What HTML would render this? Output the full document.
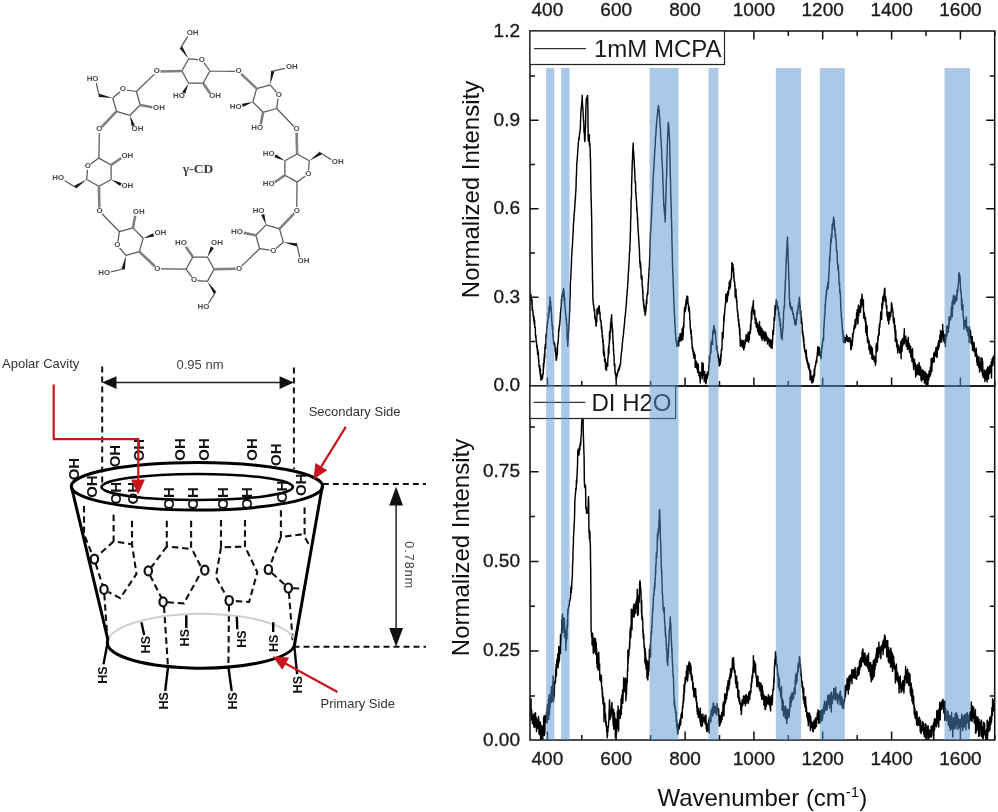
<!DOCTYPE html>
<html><head><meta charset="utf-8"><style>
html,body{margin:0;padding:0;background:#fff;overflow:hidden;width:998px;height:812px;}
svg{display:block;}
</style></head><body>
<svg width="998" height="812" viewBox="0 0 998 812">
<rect width="998" height="812" fill="#fff"/>
<defs><clipPath id="cu"><rect x="530.0" y="31.0" width="464.7" height="355.0"/></clipPath>
<clipPath id="cl"><rect x="530.0" y="386.0" width="464.7" height="354.0"/></clipPath></defs>
<path clip-path="url(#cu)" d="M530.5 293.1L530.7 298.0L530.8 298.8L531.0 295.1L531.2 296.9L531.3 297.5L531.5 301.8L531.7 301.4L531.9 305.1L532.0 299.2L532.2 310.2L532.4 306.9L532.5 310.5L532.7 309.6L532.9 310.3L533.0 314.1L533.2 316.5L533.4 315.1L533.6 316.7L533.7 320.5L533.9 317.6L534.1 317.2L534.2 324.0L534.4 322.5L534.6 320.5L534.7 325.0L534.9 327.5L535.1 326.9L535.3 327.5L535.4 333.3L535.6 337.1L535.8 335.4L535.9 335.5L536.1 340.1L536.3 342.5L536.4 341.1L536.6 344.8L536.8 347.6L537.0 345.5L537.1 345.1L537.3 349.8L537.5 350.9L537.6 354.6L537.8 349.3L538.0 352.4L538.1 353.3L538.3 352.2L538.5 358.8L538.7 361.3L538.8 359.1L539.0 366.4L539.2 366.2L539.3 367.1L539.5 367.8L539.7 370.8L539.8 365.8L540.0 372.7L540.2 374.1L540.4 368.9L540.5 376.2L540.7 376.0L540.9 380.3L541.0 377.9L541.2 378.6L541.4 379.2L541.5 375.4L541.7 379.1L541.9 376.7L542.1 378.0L542.2 374.7L542.4 378.8L542.6 377.0L542.7 374.1L542.9 374.7L543.1 374.7L543.2 374.5L543.4 363.4L543.6 368.6L543.8 365.7L543.9 362.4L544.1 358.2L544.3 362.8L544.4 354.1L544.6 357.5L544.8 357.8L544.9 347.6L545.1 349.1L545.3 344.2L545.5 346.4L545.6 347.8L545.8 347.1L546.0 334.3L546.1 335.6L546.3 337.0L546.5 337.3L546.6 332.0L546.8 326.7L547.0 328.2L547.2 326.0L547.3 324.1L547.5 321.2L547.7 323.0L547.8 321.4L548.0 319.0L548.2 317.2L548.3 312.9L548.5 313.8L548.7 317.2L548.9 311.9L549.0 306.8L549.2 313.0L549.4 309.1L549.5 311.8L549.7 304.5L549.9 301.4L550.0 297.0L550.2 303.5L550.4 308.9L550.6 301.3L550.7 303.7L550.9 309.1L551.1 307.0L551.2 310.5L551.4 312.2L551.6 316.0L551.7 321.2L551.9 320.9L552.1 326.1L552.3 325.0L552.4 329.8L552.6 325.5L552.8 329.5L552.9 337.0L553.1 334.3L553.3 338.8L553.4 339.8L553.6 343.2L553.8 343.0L554.0 344.7L554.1 342.7L554.3 342.3L554.5 343.4L554.6 345.2L554.8 344.6L555.0 347.4L555.1 349.9L555.3 352.0L555.5 351.6L555.7 348.3L555.8 354.7L556.0 356.7L556.2 360.3L556.3 359.4L556.5 354.3L556.7 352.4L556.8 358.4L557.0 353.2L557.2 354.5L557.4 353.6L557.5 343.7L557.7 345.3L557.9 343.9L558.0 342.4L558.2 340.7L558.4 338.1L558.5 336.1L558.7 329.6L558.9 331.4L559.1 327.9L559.2 328.5L559.4 325.0L559.6 326.2L559.7 324.9L559.9 321.6L560.1 319.7L560.2 317.2L560.4 313.8L560.6 312.7L560.8 309.7L560.9 310.2L561.1 307.1L561.3 306.6L561.4 299.3L561.6 303.4L561.8 296.8L561.9 295.3L562.1 296.1L562.3 294.5L562.5 296.2L562.6 293.2L562.8 291.2L563.0 291.2L563.1 296.6L563.3 292.4L563.5 288.4L563.6 291.7L563.8 289.0L564.0 300.1L564.2 292.5L564.3 299.8L564.5 301.6L564.7 297.7L564.8 304.3L565.0 307.9L565.2 308.1L565.3 309.3L565.5 313.3L565.7 313.1L565.9 315.6L566.0 316.4L566.2 320.5L566.4 318.1L566.5 325.0L566.7 323.5L566.9 325.1L567.0 332.4L567.2 339.4L567.4 340.6L567.6 339.7L567.7 346.3L567.9 342.7L568.1 341.0L568.2 338.4L568.4 332.4L568.6 332.8L568.7 328.4L568.9 326.0L569.1 322.1L569.3 319.2L569.4 315.2L569.6 312.1L569.8 307.9L569.9 300.4L570.1 296.5L570.3 289.4L570.4 281.9L570.6 280.5L570.8 277.3L571.0 272.6L571.1 270.0L571.3 266.8L571.5 261.4L571.6 257.0L571.8 255.1L572.0 251.5L572.1 248.2L572.3 246.8L572.5 244.6L572.7 238.7L572.8 237.0L573.0 234.2L573.2 230.7L573.3 228.0L573.5 223.0L573.7 221.3L573.8 220.7L574.0 216.9L574.2 212.8L574.4 212.2L574.5 210.9L574.7 207.5L574.9 204.1L575.0 204.6L575.2 198.7L575.4 198.8L575.5 195.9L575.7 191.9L575.9 190.6L576.1 185.0L576.2 178.5L576.4 176.3L576.6 170.5L576.7 164.1L576.9 162.5L577.1 161.2L577.2 159.2L577.4 156.1L577.6 153.5L577.8 151.5L577.9 148.2L578.1 147.5L578.3 143.6L578.4 142.4L578.6 141.6L578.8 138.3L578.9 137.6L579.1 139.4L579.3 136.7L579.5 134.7L579.6 134.3L579.8 132.1L580.0 131.9L580.1 129.5L580.3 129.4L580.5 121.9L580.6 120.7L580.8 113.6L581.0 110.0L581.2 109.6L581.3 107.3L581.5 105.8L581.7 101.9L581.8 101.8L582.0 103.8L582.2 95.3L582.3 100.4L582.5 103.3L582.7 107.6L582.9 107.5L583.0 110.7L583.2 115.1L583.4 116.8L583.5 121.3L583.7 120.7L583.9 125.3L584.0 132.4L584.2 131.1L584.4 134.4L584.6 139.1L584.7 141.5L584.9 140.4L585.1 137.1L585.2 132.8L585.4 128.0L585.6 125.1L585.7 117.3L585.9 106.0L586.1 103.4L586.3 98.4L586.4 99.8L586.6 98.2L586.8 100.4L586.9 98.5L587.1 97.9L587.3 96.4L587.4 95.6L587.6 95.5L587.8 104.5L588.0 118.5L588.1 132.4L588.3 141.1L588.5 140.2L588.6 140.4L588.8 138.8L589.0 140.0L589.1 140.3L589.3 134.6L589.5 145.6L589.7 144.7L589.8 142.9L590.0 146.7L590.2 148.9L590.3 157.5L590.5 158.4L590.7 172.8L590.8 182.2L591.0 192.5L591.2 200.4L591.4 208.0L591.5 212.1L591.7 220.5L591.9 239.6L592.0 248.5L592.2 261.3L592.4 268.4L592.5 279.5L592.7 284.7L592.9 300.3L593.1 299.5L593.2 303.0L593.4 304.6L593.6 304.2L593.7 306.7L593.9 307.0L594.1 310.4L594.2 310.9L594.4 309.2L594.6 310.4L594.8 318.3L594.9 314.6L595.1 319.1L595.3 318.8L595.4 317.6L595.6 318.5L595.8 322.3L595.9 324.2L596.1 326.2L596.3 319.2L596.5 319.3L596.6 318.9L596.8 321.8L597.0 309.0L597.1 315.0L597.3 310.5L597.5 311.4L597.6 308.4L597.8 310.6L598.0 313.8L598.2 310.2L598.3 310.2L598.5 309.9L598.7 306.5L598.8 309.9L599.0 307.6L599.2 305.8L599.3 309.0L599.5 309.7L599.7 313.7L599.9 312.7L600.0 312.6L600.2 319.4L600.4 319.4L600.5 321.4L600.7 320.8L600.9 320.0L601.0 321.1L601.2 323.6L601.4 329.0L601.6 328.7L601.7 326.3L601.9 332.4L602.1 330.6L602.2 337.0L602.4 334.9L602.6 336.3L602.7 341.7L602.9 342.6L603.1 339.7L603.3 348.0L603.4 353.5L603.6 344.8L603.8 355.6L603.9 350.1L604.1 352.1L604.3 354.5L604.4 352.5L604.6 361.6L604.8 360.8L605.0 358.7L605.1 361.5L605.3 359.4L605.5 364.1L605.6 369.1L605.8 363.1L606.0 367.2L606.1 368.2L606.3 370.1L606.5 370.3L606.7 364.6L606.8 363.2L607.0 365.9L607.2 363.0L607.3 362.5L607.5 365.8L607.7 366.2L607.8 360.2L608.0 356.8L608.2 356.9L608.4 348.0L608.5 351.2L608.7 346.3L608.9 353.9L609.0 347.2L609.2 343.6L609.4 340.6L609.5 332.1L609.7 339.0L609.9 339.5L610.1 330.8L610.2 332.7L610.4 330.7L610.6 322.2L610.7 327.1L610.9 326.1L611.1 320.9L611.2 318.0L611.4 318.8L611.6 314.8L611.8 322.0L611.9 327.2L612.1 323.3L612.3 332.1L612.4 330.7L612.6 328.6L612.8 336.7L612.9 337.1L613.1 343.5L613.3 342.2L613.5 351.3L613.6 349.1L613.8 355.0L614.0 355.2L614.1 358.8L614.3 365.8L614.5 364.8L614.6 364.8L614.8 364.0L615.0 372.5L615.2 373.0L615.3 371.7L615.5 374.9L615.7 373.1L615.8 374.8L616.0 376.8L616.2 379.5L616.3 378.1L616.5 376.3L616.7 377.3L616.9 376.6L617.0 375.3L617.2 375.5L617.4 373.4L617.5 372.9L617.7 372.9L617.9 371.6L618.0 371.9L618.2 369.2L618.4 371.8L618.6 369.0L618.7 369.3L618.9 367.6L619.1 369.4L619.2 369.8L619.4 369.2L619.6 368.6L619.7 365.6L619.9 366.1L620.1 366.1L620.3 364.0L620.4 364.6L620.6 361.8L620.8 359.9L620.9 358.8L621.1 355.5L621.3 353.9L621.4 352.2L621.6 352.0L621.8 350.2L622.0 348.7L622.1 347.6L622.3 343.2L622.5 342.4L622.6 341.5L622.8 338.1L623.0 337.3L623.1 337.3L623.3 335.7L623.5 334.0L623.7 331.1L623.8 329.2L624.0 328.9L624.2 325.6L624.3 324.7L624.5 324.1L624.7 320.5L624.8 318.6L625.0 317.5L625.2 316.5L625.4 314.7L625.5 312.6L625.7 311.4L625.9 307.3L626.0 306.4L626.2 305.9L626.4 303.0L626.5 300.1L626.7 297.7L626.9 295.5L627.1 293.7L627.2 290.3L627.4 289.1L627.6 288.2L627.7 283.6L627.9 282.6L628.1 279.0L628.2 274.9L628.4 273.3L628.6 269.7L628.8 268.4L628.9 263.2L629.1 262.7L629.3 258.8L629.4 252.8L629.6 252.7L629.8 250.4L629.9 244.7L630.1 244.4L630.3 233.8L630.5 231.4L630.6 221.0L630.8 218.7L631.0 207.6L631.1 199.4L631.3 199.0L631.5 196.3L631.6 184.1L631.8 180.4L632.0 172.5L632.2 165.2L632.3 161.1L632.5 159.9L632.7 150.8L632.8 151.0L633.0 147.3L633.2 143.1L633.3 151.6L633.5 154.7L633.7 151.3L633.9 159.1L634.0 158.2L634.2 160.2L634.4 166.9L634.5 167.7L634.7 171.2L634.9 176.9L635.0 179.8L635.2 182.4L635.4 181.1L635.6 184.2L635.7 192.9L635.9 192.1L636.1 196.8L636.2 197.0L636.4 201.3L636.6 201.6L636.7 210.0L636.9 207.3L637.1 211.6L637.3 214.0L637.4 219.6L637.6 217.2L637.8 222.8L637.9 225.3L638.1 229.6L638.3 232.4L638.4 233.4L638.6 237.6L638.8 239.5L639.0 244.2L639.1 246.1L639.3 248.0L639.5 252.3L639.6 256.2L639.8 263.0L640.0 260.6L640.1 264.0L640.3 268.0L640.5 262.6L640.7 265.0L640.8 267.8L641.0 271.6L641.2 278.4L641.3 276.0L641.5 279.3L641.7 278.2L641.8 275.4L642.0 277.4L642.2 286.1L642.4 286.8L642.5 286.2L642.7 293.4L642.9 290.5L643.0 298.2L643.2 301.2L643.4 299.2L643.5 300.9L643.7 306.4L643.9 303.7L644.1 308.9L644.2 306.0L644.4 311.3L644.6 311.1L644.7 311.3L644.9 311.6L645.1 315.2L645.2 312.1L645.4 314.2L645.6 311.9L645.8 311.9L645.9 305.9L646.1 309.7L646.3 303.6L646.4 300.3L646.6 304.0L646.8 303.1L646.9 298.0L647.1 295.1L647.3 295.5L647.5 292.7L647.6 292.0L647.8 294.3L648.0 289.1L648.1 285.6L648.3 283.1L648.5 279.4L648.6 278.2L648.8 275.4L649.0 270.0L649.2 268.0L649.3 269.7L649.5 262.7L649.7 257.0L649.8 256.9L650.0 248.2L650.2 241.4L650.3 240.4L650.5 232.8L650.7 230.9L650.9 228.9L651.0 225.2L651.2 221.3L651.4 218.5L651.5 215.3L651.7 213.9L651.9 207.5L652.0 203.7L652.2 203.0L652.4 195.7L652.6 194.3L652.7 190.1L652.9 184.2L653.1 178.5L653.2 177.2L653.4 174.6L653.6 172.2L653.7 168.2L653.9 166.8L654.1 164.2L654.3 158.1L654.4 158.5L654.6 154.0L654.8 150.3L654.9 148.0L655.1 148.3L655.3 144.5L655.4 138.3L655.6 138.1L655.8 135.2L656.0 132.6L656.1 129.5L656.3 126.0L656.5 126.9L656.6 122.5L656.8 121.2L657.0 118.8L657.1 116.6L657.3 116.4L657.5 114.2L657.7 111.4L657.8 109.6L658.0 108.7L658.2 109.1L658.3 106.5L658.5 105.4L658.7 106.6L658.8 108.6L659.0 111.1L659.2 110.3L659.4 116.7L659.5 115.5L659.7 117.7L659.9 122.1L660.0 123.4L660.2 126.1L660.4 128.2L660.5 129.8L660.7 135.0L660.9 139.3L661.1 139.7L661.2 146.2L661.4 146.5L661.6 150.6L661.7 155.7L661.9 158.6L662.1 163.1L662.2 164.8L662.4 168.1L662.6 171.4L662.8 176.6L662.9 181.2L663.1 185.1L663.3 191.7L663.4 194.8L663.6 197.5L663.8 206.6L663.9 204.5L664.1 206.1L664.3 211.4L664.5 213.5L664.6 212.6L664.8 214.3L665.0 217.1L665.1 222.0L665.3 217.0L665.5 210.3L665.6 205.2L665.8 200.8L666.0 191.4L666.2 186.6L666.3 179.4L666.5 178.2L666.7 172.0L666.8 165.0L667.0 157.8L667.2 153.0L667.3 143.9L667.5 142.4L667.7 135.6L667.9 131.0L668.0 127.2L668.2 123.0L668.4 122.4L668.5 124.8L668.7 126.5L668.9 127.2L669.0 131.6L669.2 132.8L669.4 136.8L669.6 140.9L669.7 145.6L669.9 155.7L670.1 166.3L670.2 171.2L670.4 177.4L670.6 185.4L670.7 191.5L670.9 198.1L671.1 203.4L671.3 210.8L671.4 217.5L671.6 223.4L671.8 229.9L671.9 238.6L672.1 246.8L672.3 253.5L672.4 260.4L672.6 266.0L672.8 273.5L673.0 275.4L673.1 281.2L673.3 287.3L673.5 289.7L673.6 294.6L673.8 299.9L674.0 305.0L674.1 307.5L674.3 311.8L674.5 315.8L674.7 318.0L674.8 324.2L675.0 325.6L675.2 326.9L675.3 332.2L675.5 333.4L675.7 336.4L675.8 338.7L676.0 338.5L676.2 342.0L676.4 339.7L676.5 342.9L676.7 344.2L676.9 346.3L677.0 346.6L677.2 345.6L677.4 344.8L677.5 344.0L677.7 344.9L677.9 341.9L678.1 342.8L678.2 341.3L678.4 341.6L678.6 339.5L678.7 346.1L678.9 337.3L679.1 339.9L679.2 339.8L679.4 340.6L679.6 340.0L679.8 339.7L679.9 341.3L680.1 333.6L680.3 338.0L680.4 334.0L680.6 338.2L680.8 333.7L680.9 334.1L681.1 336.6L681.3 340.7L681.5 338.0L681.6 336.9L681.8 340.0L682.0 332.7L682.1 329.0L682.3 333.8L682.5 334.0L682.6 338.3L682.8 339.5L683.0 326.9L683.2 336.2L683.3 331.4L683.5 327.1L683.7 323.5L683.8 327.6L684.0 318.4L684.2 314.6L684.3 314.3L684.5 307.8L684.7 312.6L684.9 310.0L685.0 310.5L685.2 309.8L685.4 304.8L685.5 311.1L685.7 303.3L685.9 308.2L686.0 300.0L686.2 305.1L686.4 301.2L686.6 303.4L686.7 301.0L686.9 296.0L687.1 298.9L687.2 302.1L687.4 303.5L687.6 298.0L687.7 296.8L687.9 301.4L688.1 304.2L688.3 303.7L688.4 304.0L688.6 309.8L688.8 310.9L688.9 311.0L689.1 306.8L689.3 311.3L689.4 312.7L689.6 311.2L689.8 320.3L690.0 320.1L690.1 320.5L690.3 328.4L690.5 328.7L690.6 331.0L690.8 333.7L691.0 333.9L691.1 329.7L691.3 334.0L691.5 339.8L691.7 336.2L691.8 340.3L692.0 343.0L692.2 347.8L692.3 349.0L692.5 349.1L692.7 346.9L692.8 351.2L693.0 351.0L693.2 350.0L693.4 355.5L693.5 354.0L693.7 351.2L693.9 358.3L694.0 354.7L694.2 358.3L694.4 353.0L694.5 358.4L694.7 356.3L694.9 356.9L695.1 354.7L695.2 367.6L695.4 361.4L695.6 363.2L695.7 366.5L695.9 363.5L696.1 366.1L696.2 361.2L696.4 366.5L696.6 365.3L696.8 368.7L696.9 368.3L697.1 364.2L697.3 363.3L697.4 366.4L697.6 372.3L697.8 371.9L697.9 372.4L698.1 365.7L698.3 364.3L698.5 371.1L698.6 372.5L698.8 372.3L699.0 375.7L699.1 374.7L699.3 372.2L699.5 373.7L699.6 377.4L699.8 377.1L700.0 376.3L700.2 383.0L700.3 375.0L700.5 375.8L700.7 372.2L700.8 373.7L701.0 376.0L701.2 375.8L701.3 373.3L701.5 374.6L701.7 373.2L701.9 367.1L702.0 362.5L702.2 379.0L702.4 374.2L702.5 371.2L702.7 365.8L702.9 367.2L703.0 375.5L703.2 363.5L703.4 371.4L703.6 375.4L703.7 373.7L703.9 376.0L704.1 373.7L704.2 381.8L704.4 371.9L704.6 371.4L704.7 376.7L704.9 380.7L705.1 376.6L705.3 380.4L705.4 376.1L705.6 374.6L705.8 382.8L705.9 383.7L706.1 383.6L706.3 377.3L706.4 374.8L706.6 374.5L706.8 376.9L707.0 379.0L707.1 378.5L707.3 372.3L707.5 376.8L707.6 376.0L707.8 375.9L708.0 375.2L708.1 373.9L708.3 374.6L708.5 371.5L708.7 370.1L708.8 365.6L709.0 367.2L709.2 363.9L709.3 356.3L709.5 362.4L709.7 358.4L709.8 360.3L710.0 355.3L710.2 353.8L710.4 353.4L710.5 351.3L710.7 348.7L710.9 343.3L711.0 352.8L711.2 341.2L711.4 343.6L711.5 345.2L711.7 343.1L711.9 342.3L712.1 341.5L712.2 341.6L712.4 337.6L712.6 344.4L712.7 331.6L712.9 334.3L713.1 331.5L713.2 330.0L713.4 331.4L713.6 333.9L713.8 326.4L713.9 325.4L714.1 328.7L714.3 327.1L714.4 331.0L714.6 329.9L714.8 329.2L714.9 329.2L715.1 332.5L715.3 333.1L715.5 331.2L715.6 337.0L715.8 338.2L716.0 339.7L716.1 340.8L716.3 348.9L716.5 347.6L716.6 349.5L716.8 346.0L717.0 345.9L717.2 349.3L717.3 352.0L717.5 351.4L717.7 353.0L717.8 357.6L718.0 356.8L718.2 354.1L718.3 356.9L718.5 357.3L718.7 361.0L718.9 358.1L719.0 362.2L719.2 366.0L719.4 365.1L719.5 363.5L719.7 363.9L719.9 364.7L720.0 364.4L720.2 364.2L720.4 359.8L720.6 355.0L720.7 361.8L720.9 357.1L721.1 356.1L721.2 354.4L721.4 349.0L721.6 349.8L721.7 349.9L721.9 349.8L722.1 344.5L722.3 332.6L722.4 338.9L722.6 338.3L722.8 338.8L722.9 334.6L723.1 337.6L723.3 332.0L723.4 329.4L723.6 325.8L723.8 316.5L724.0 321.4L724.1 319.0L724.3 313.9L724.5 315.6L724.6 313.4L724.8 309.1L725.0 308.4L725.1 306.3L725.3 306.1L725.5 302.4L725.7 303.6L725.8 294.5L726.0 298.6L726.2 294.0L726.3 297.3L726.5 299.9L726.7 298.1L726.8 297.4L727.0 297.6L727.2 301.7L727.4 293.4L727.5 299.0L727.7 291.5L727.9 294.3L728.0 295.7L728.2 291.6L728.4 293.7L728.5 294.3L728.7 287.5L728.9 289.8L729.1 287.9L729.2 282.2L729.4 286.4L729.6 283.6L729.7 289.0L729.9 281.3L730.1 288.0L730.2 280.2L730.4 286.5L730.6 281.2L730.8 279.8L730.9 279.7L731.1 278.9L731.3 279.3L731.4 279.2L731.6 271.8L731.8 268.0L731.9 262.6L732.1 268.3L732.3 270.6L732.5 268.4L732.6 266.5L732.8 263.9L733.0 265.1L733.1 268.2L733.3 272.2L733.5 267.8L733.6 277.3L733.8 272.7L734.0 278.6L734.2 279.2L734.3 281.9L734.5 281.3L734.7 282.3L734.8 286.4L735.0 285.2L735.2 297.2L735.3 289.9L735.5 290.6L735.7 292.3L735.9 292.0L736.0 289.3L736.2 297.2L736.4 300.3L736.5 296.5L736.7 302.7L736.9 300.7L737.0 305.9L737.2 308.8L737.4 310.9L737.6 312.4L737.7 310.7L737.9 317.1L738.1 314.9L738.2 318.9L738.4 321.7L738.6 320.4L738.7 319.2L738.9 326.7L739.1 323.3L739.3 325.8L739.4 326.9L739.6 334.6L739.8 333.3L739.9 328.8L740.1 339.6L740.3 345.4L740.4 346.3L740.6 340.0L740.8 342.3L741.0 343.9L741.1 345.4L741.3 343.2L741.5 340.1L741.6 346.0L741.8 345.9L742.0 340.4L742.1 343.7L742.3 345.9L742.5 345.4L742.7 347.2L742.8 347.8L743.0 346.8L743.2 344.6L743.3 340.6L743.5 346.3L743.7 348.5L743.8 350.0L744.0 343.7L744.2 343.5L744.4 347.7L744.5 347.4L744.7 343.9L744.9 344.8L745.0 340.2L745.2 344.0L745.4 339.5L745.5 341.4L745.7 341.2L745.9 339.9L746.1 334.6L746.2 338.1L746.4 341.3L746.6 339.7L746.7 338.4L746.9 340.5L747.1 341.0L747.2 341.1L747.4 335.8L747.6 337.9L747.8 336.5L747.9 334.6L748.1 332.4L748.3 336.2L748.4 333.6L748.6 342.3L748.8 335.2L748.9 334.5L749.1 333.6L749.3 340.1L749.5 331.3L749.6 333.3L749.8 331.1L750.0 332.7L750.1 331.6L750.3 333.4L750.5 324.3L750.6 326.8L750.8 330.1L751.0 322.2L751.2 321.6L751.3 317.8L751.5 311.0L751.7 317.0L751.8 319.2L752.0 312.6L752.2 306.9L752.3 311.6L752.5 309.5L752.7 310.6L752.9 308.7L753.0 303.6L753.2 305.7L753.4 300.5L753.5 310.6L753.7 309.2L753.9 313.2L754.0 314.5L754.2 311.8L754.4 313.6L754.6 312.7L754.7 310.5L754.9 317.7L755.1 319.9L755.2 317.4L755.4 323.4L755.6 322.3L755.7 324.0L755.9 321.0L756.1 318.7L756.3 327.0L756.4 327.2L756.6 325.7L756.8 325.5L756.9 326.6L757.1 327.7L757.3 327.2L757.4 323.0L757.6 331.5L757.8 324.9L758.0 328.5L758.1 328.8L758.3 330.6L758.5 325.2L758.6 333.8L758.8 332.3L759.0 332.8L759.1 334.5L759.3 328.5L759.5 321.6L759.7 332.2L759.8 335.3L760.0 335.1L760.2 330.1L760.3 331.6L760.5 332.9L760.7 326.8L760.8 330.4L761.0 330.7L761.2 337.5L761.4 331.0L761.5 337.8L761.7 333.3L761.9 328.4L762.0 340.3L762.2 330.9L762.4 335.8L762.5 339.3L762.7 332.7L762.9 330.8L763.1 337.8L763.2 335.0L763.4 331.3L763.6 331.9L763.7 334.2L763.9 338.4L764.1 334.8L764.2 337.8L764.4 341.0L764.6 340.0L764.8 340.7L764.9 340.2L765.1 331.9L765.3 340.5L765.4 338.0L765.6 336.8L765.8 334.2L765.9 332.9L766.1 334.6L766.3 338.1L766.5 334.9L766.6 336.2L766.8 337.1L767.0 341.2L767.1 338.6L767.3 339.3L767.5 343.9L767.6 339.3L767.8 342.3L768.0 337.6L768.2 342.0L768.3 341.6L768.5 342.0L768.7 340.4L768.8 338.9L769.0 341.4L769.2 341.1L769.3 345.9L769.5 345.8L769.7 339.7L769.9 345.4L770.0 342.3L770.2 345.3L770.4 342.6L770.5 339.8L770.7 347.5L770.9 345.9L771.0 341.1L771.2 340.2L771.4 343.8L771.6 342.3L771.7 344.5L771.9 347.2L772.1 348.5L772.2 341.9L772.4 344.2L772.6 341.7L772.7 335.6L772.9 330.5L773.1 334.8L773.3 332.1L773.4 334.4L773.6 330.1L773.8 326.4L773.9 326.6L774.1 317.8L774.3 319.5L774.4 316.9L774.6 320.5L774.8 316.2L775.0 305.7L775.1 315.3L775.3 308.2L775.5 311.0L775.6 306.4L775.8 306.8L776.0 306.4L776.1 303.9L776.3 299.6L776.5 304.0L776.7 301.0L776.8 301.0L777.0 303.9L777.2 301.8L777.3 308.9L777.5 305.8L777.7 307.2L777.8 308.2L778.0 306.1L778.2 306.5L778.4 311.1L778.5 312.5L778.7 316.0L778.9 314.8L779.0 312.0L779.2 317.1L779.4 319.1L779.5 321.0L779.7 320.8L779.9 318.3L780.1 325.8L780.2 322.5L780.4 327.2L780.6 323.3L780.7 330.6L780.9 328.2L781.1 334.3L781.2 337.4L781.4 337.4L781.6 333.0L781.8 335.0L781.9 336.7L782.1 339.7L782.3 336.5L782.4 333.6L782.6 331.5L782.8 329.8L782.9 327.5L783.1 327.7L783.3 320.9L783.5 319.2L783.6 311.6L783.8 310.5L784.0 309.6L784.1 306.0L784.3 307.1L784.5 306.7L784.6 299.0L784.8 294.6L785.0 290.3L785.2 287.7L785.3 281.7L785.5 279.9L785.7 275.4L785.8 271.2L786.0 268.0L786.2 262.0L786.3 258.0L786.5 257.8L786.7 250.0L786.9 249.5L787.0 245.1L787.2 241.3L787.4 238.8L787.5 237.1L787.7 244.0L787.9 247.4L788.0 252.7L788.2 261.7L788.4 263.2L788.6 271.2L788.7 273.9L788.9 280.3L789.1 281.4L789.2 288.2L789.4 299.3L789.6 299.6L789.7 304.9L789.9 304.8L790.1 306.9L790.3 302.4L790.4 303.8L790.6 307.5L790.8 309.1L790.9 306.6L791.1 307.7L791.3 307.8L791.4 308.8L791.6 306.9L791.8 306.9L792.0 310.8L792.1 307.2L792.3 309.7L792.5 311.1L792.6 310.7L792.8 314.5L793.0 313.3L793.1 314.8L793.3 313.1L793.5 314.3L793.7 318.0L793.8 318.2L794.0 316.7L794.2 319.4L794.3 319.5L794.5 320.0L794.7 324.2L794.8 319.7L795.0 322.4L795.2 322.9L795.4 321.9L795.5 320.1L795.7 325.3L795.9 324.8L796.0 324.4L796.2 323.0L796.4 321.7L796.5 318.1L796.7 319.7L796.9 313.1L797.1 316.2L797.2 311.2L797.4 312.7L797.6 314.1L797.7 310.3L797.9 308.4L798.1 309.6L798.2 306.3L798.4 304.6L798.6 303.3L798.8 306.7L798.9 303.3L799.1 301.5L799.3 297.2L799.4 303.4L799.6 300.3L799.8 306.4L799.9 304.1L800.1 313.5L800.3 306.1L800.5 315.0L800.6 315.7L800.8 310.9L801.0 316.5L801.1 322.4L801.3 323.3L801.5 317.7L801.6 321.9L801.8 321.6L802.0 323.4L802.2 325.7L802.3 333.3L802.5 330.4L802.7 330.9L802.8 332.0L803.0 335.9L803.2 337.4L803.3 334.7L803.5 342.1L803.7 337.1L803.9 340.5L804.0 343.7L804.2 348.2L804.4 344.4L804.5 347.0L804.7 350.4L804.9 349.6L805.0 351.7L805.2 352.4L805.4 351.4L805.6 353.2L805.7 354.8L805.9 353.3L806.1 358.2L806.2 350.2L806.4 353.7L806.6 360.5L806.7 358.9L806.9 357.1L807.1 360.5L807.3 363.2L807.4 360.0L807.6 364.2L807.8 362.6L807.9 363.3L808.1 364.1L808.3 367.8L808.4 362.9L808.6 365.5L808.8 368.7L809.0 364.7L809.1 364.5L809.3 370.6L809.5 369.8L809.6 370.2L809.8 371.6L810.0 369.5L810.1 379.9L810.3 370.8L810.5 372.9L810.7 371.1L810.8 374.3L811.0 379.7L811.2 376.5L811.3 378.6L811.5 376.4L811.7 382.8L811.8 379.2L812.0 376.3L812.2 381.9L812.4 379.7L812.5 382.7L812.7 382.1L812.9 382.4L813.0 381.2L813.2 377.6L813.4 375.2L813.5 380.5L813.7 376.8L813.9 376.9L814.1 374.1L814.2 369.3L814.4 370.2L814.6 375.9L814.7 369.6L814.9 369.6L815.1 365.8L815.2 366.9L815.4 366.2L815.6 365.4L815.8 364.6L815.9 362.1L816.1 361.1L816.3 361.3L816.4 361.0L816.6 358.7L816.8 362.3L816.9 357.3L817.1 356.0L817.3 352.8L817.5 355.9L817.6 349.6L817.8 346.9L818.0 347.4L818.1 351.4L818.3 347.2L818.5 353.5L818.6 350.4L818.8 346.9L819.0 350.4L819.2 355.6L819.3 349.2L819.5 348.3L819.7 353.1L819.8 355.3L820.0 354.8L820.2 351.7L820.3 353.2L820.5 353.7L820.7 356.1L820.9 358.7L821.0 353.3L821.2 357.1L821.4 351.6L821.5 352.6L821.7 347.4L821.9 346.5L822.0 348.1L822.2 343.5L822.4 346.6L822.6 341.6L822.7 341.8L822.9 340.1L823.1 338.1L823.2 337.9L823.4 338.1L823.6 340.6L823.7 327.3L823.9 328.4L824.1 324.6L824.3 320.2L824.4 320.6L824.6 315.0L824.8 314.4L824.9 315.1L825.1 304.4L825.3 307.5L825.4 305.4L825.6 299.2L825.8 300.3L826.0 297.3L826.1 294.1L826.3 297.0L826.5 289.7L826.6 293.5L826.8 290.3L827.0 287.1L827.1 288.3L827.3 286.9L827.5 289.2L827.7 282.8L827.8 285.4L828.0 284.1L828.2 288.6L828.3 281.2L828.5 284.5L828.7 274.3L828.8 276.5L829.0 272.2L829.2 270.4L829.4 264.6L829.5 258.5L829.7 256.7L829.9 261.2L830.0 255.7L830.2 250.3L830.4 252.0L830.5 245.1L830.7 242.4L830.9 238.5L831.1 242.2L831.2 242.8L831.4 234.1L831.6 235.9L831.7 236.2L831.9 237.7L832.1 225.0L832.2 230.0L832.4 229.9L832.6 223.2L832.8 226.5L832.9 224.6L833.1 224.5L833.3 219.9L833.4 221.0L833.6 217.1L833.8 220.1L833.9 220.6L834.1 220.9L834.3 219.9L834.5 229.2L834.6 229.4L834.8 230.5L835.0 228.2L835.1 230.6L835.3 237.3L835.5 236.6L835.6 234.2L835.8 238.2L836.0 240.8L836.2 242.3L836.3 242.8L836.5 250.7L836.7 251.4L836.8 251.8L837.0 250.7L837.2 255.6L837.3 259.4L837.5 263.9L837.7 263.2L837.9 269.3L838.0 268.8L838.2 268.5L838.4 265.2L838.5 271.1L838.7 272.1L838.9 277.3L839.0 280.4L839.2 284.8L839.4 283.2L839.6 282.2L839.7 292.8L839.9 289.5L840.1 290.4L840.2 293.4L840.4 293.7L840.6 301.7L840.7 304.0L840.9 310.1L841.1 311.8L841.3 314.3L841.4 318.3L841.6 317.4L841.8 320.0L841.9 324.0L842.1 324.0L842.3 329.1L842.4 330.1L842.6 334.0L842.8 333.8L843.0 330.5L843.1 336.9L843.3 341.8L843.5 335.1L843.6 339.3L843.8 342.7L844.0 339.9L844.1 341.5L844.3 342.5L844.5 338.7L844.7 342.3L844.8 342.1L845.0 337.5L845.2 340.3L845.3 342.5L845.5 339.0L845.7 340.1L845.8 340.2L846.0 337.6L846.2 340.2L846.4 338.3L846.5 334.8L846.7 338.7L846.9 339.7L847.0 339.6L847.2 336.1L847.4 339.0L847.5 341.4L847.7 338.7L847.9 341.2L848.1 341.6L848.2 338.4L848.4 340.2L848.6 338.0L848.7 341.5L848.9 338.7L849.1 337.7L849.2 339.1L849.4 339.1L849.6 340.6L849.8 341.3L849.9 337.7L850.1 339.5L850.3 342.6L850.4 343.4L850.6 342.9L850.8 349.8L850.9 346.5L851.1 344.0L851.3 346.5L851.5 348.6L851.6 346.3L851.8 339.7L852.0 343.0L852.1 341.5L852.3 345.3L852.5 334.0L852.6 341.2L852.8 335.5L853.0 336.9L853.2 332.5L853.3 332.3L853.5 333.3L853.7 329.4L853.8 331.1L854.0 327.7L854.2 326.3L854.3 326.2L854.5 324.9L854.7 325.3L854.9 328.4L855.0 321.5L855.2 319.7L855.4 323.2L855.5 326.9L855.7 324.7L855.9 324.9L856.0 324.1L856.2 318.6L856.4 320.1L856.6 312.6L856.7 317.2L856.9 319.6L857.1 313.7L857.2 309.8L857.4 311.9L857.6 316.7L857.7 319.5L857.9 323.9L858.1 319.3L858.3 308.5L858.4 305.1L858.6 313.2L858.8 315.8L858.9 305.9L859.1 309.2L859.3 308.9L859.4 310.1L859.6 308.8L859.8 310.7L860.0 312.0L860.1 307.7L860.3 309.0L860.5 312.3L860.6 300.8L860.8 299.7L861.0 304.1L861.1 307.8L861.3 300.9L861.5 303.1L861.7 297.2L861.8 300.5L862.0 294.1L862.2 298.6L862.3 299.0L862.5 300.3L862.7 305.1L862.8 305.4L863.0 300.9L863.2 307.5L863.4 299.8L863.5 310.5L863.7 318.1L863.9 311.7L864.0 312.9L864.2 312.8L864.4 316.8L864.5 313.7L864.7 319.1L864.9 317.1L865.1 318.0L865.2 321.3L865.4 322.1L865.6 317.6L865.7 332.3L865.9 326.9L866.1 321.9L866.2 333.0L866.4 330.5L866.6 332.7L866.8 335.8L866.9 331.6L867.1 325.8L867.3 337.1L867.4 339.1L867.6 342.5L867.8 337.0L867.9 339.3L868.1 342.3L868.3 340.5L868.5 341.4L868.6 343.8L868.8 340.1L869.0 349.8L869.1 341.7L869.3 345.7L869.5 345.1L869.6 344.4L869.8 349.5L870.0 351.8L870.2 354.0L870.3 351.6L870.5 348.7L870.7 353.6L870.8 345.9L871.0 351.4L871.2 353.4L871.3 353.9L871.5 348.3L871.7 347.4L871.9 358.8L872.0 351.5L872.2 347.9L872.4 349.6L872.5 354.4L872.7 358.8L872.9 355.0L873.0 359.5L873.2 356.5L873.4 357.7L873.6 359.8L873.7 355.6L873.9 358.6L874.1 356.8L874.2 356.6L874.4 361.7L874.6 357.2L874.7 361.0L874.9 358.5L875.1 361.6L875.3 360.7L875.4 365.4L875.6 360.5L875.8 359.0L875.9 363.1L876.1 345.8L876.3 350.5L876.4 343.4L876.6 351.6L876.8 351.7L877.0 351.0L877.1 348.2L877.3 342.8L877.5 350.6L877.6 344.1L877.8 340.7L878.0 336.3L878.1 340.3L878.3 335.8L878.5 334.5L878.7 335.5L878.8 334.1L879.0 329.1L879.2 335.0L879.3 325.8L879.5 324.0L879.7 327.6L879.8 325.6L880.0 324.0L880.2 320.9L880.4 321.1L880.5 317.5L880.7 312.3L880.9 319.2L881.0 311.7L881.2 313.0L881.4 315.0L881.5 311.1L881.7 319.2L881.9 303.2L882.1 304.1L882.2 305.6L882.4 308.6L882.6 302.1L882.7 297.0L882.9 305.1L883.1 296.9L883.2 298.5L883.4 301.3L883.6 295.0L883.8 294.8L883.9 297.2L884.1 293.8L884.3 294.6L884.4 289.3L884.6 291.3L884.8 288.1L884.9 288.1L885.1 301.2L885.3 298.2L885.5 301.4L885.6 296.4L885.8 301.2L886.0 302.2L886.1 299.5L886.3 307.9L886.5 305.1L886.6 308.4L886.8 305.4L887.0 315.8L887.2 316.5L887.3 316.0L887.5 311.9L887.7 313.7L887.8 320.4L888.0 315.7L888.2 318.1L888.3 318.2L888.5 314.3L888.7 324.0L888.9 312.3L889.0 320.5L889.2 319.9L889.4 314.4L889.5 320.0L889.7 319.5L889.9 316.7L890.0 312.4L890.2 315.7L890.4 316.8L890.6 312.5L890.7 316.6L890.9 312.4L891.1 310.9L891.2 311.9L891.4 303.5L891.6 302.8L891.7 305.3L891.9 304.1L892.1 308.1L892.3 309.0L892.4 307.7L892.6 310.0L892.8 310.4L892.9 312.2L893.1 314.1L893.3 320.9L893.4 318.3L893.6 320.1L893.8 323.1L894.0 321.9L894.1 324.0L894.3 318.3L894.5 328.5L894.6 327.2L894.8 330.1L895.0 331.9L895.1 325.3L895.3 341.4L895.5 334.7L895.7 335.9L895.8 330.2L896.0 339.9L896.2 340.3L896.3 338.8L896.5 342.1L896.7 346.6L896.8 341.4L897.0 339.9L897.2 348.1L897.4 344.9L897.5 343.8L897.7 352.9L897.9 345.9L898.0 345.1L898.2 347.1L898.4 345.2L898.5 347.8L898.7 348.0L898.9 345.7L899.1 347.5L899.2 349.9L899.4 350.6L899.6 351.7L899.7 352.9L899.9 350.9L900.1 351.5L900.2 348.1L900.4 348.1L900.6 352.3L900.8 341.5L900.9 349.3L901.1 358.7L901.3 340.9L901.4 352.2L901.6 340.5L901.8 347.6L901.9 351.6L902.1 350.5L902.3 341.6L902.5 339.7L902.6 338.7L902.8 345.7L903.0 341.2L903.1 342.1L903.3 342.4L903.5 342.4L903.6 342.3L903.8 340.3L904.0 333.8L904.2 343.9L904.3 328.7L904.5 342.1L904.7 335.5L904.8 337.4L905.0 336.7L905.2 337.6L905.3 339.3L905.5 338.8L905.7 336.3L905.9 343.6L906.0 339.0L906.2 346.2L906.4 341.4L906.5 339.9L906.7 344.3L906.9 346.3L907.0 340.4L907.2 343.0L907.4 349.3L907.6 341.1L907.7 342.0L907.9 345.9L908.1 341.4L908.2 337.3L908.4 340.4L908.6 347.9L908.7 349.2L908.9 349.3L909.1 349.0L909.3 343.6L909.4 350.6L909.6 352.6L909.8 346.5L909.9 352.5L910.1 348.3L910.3 350.6L910.4 351.8L910.6 346.0L910.8 357.1L911.0 349.6L911.1 353.0L911.3 352.3L911.5 356.3L911.6 356.9L911.8 356.2L912.0 361.7L912.1 358.4L912.3 356.8L912.5 348.8L912.7 358.5L912.8 359.2L913.0 357.9L913.2 358.6L913.3 364.4L913.5 366.4L913.7 369.6L913.8 367.2L914.0 361.0L914.2 364.6L914.4 359.2L914.5 366.8L914.7 365.7L914.9 362.6L915.0 364.6L915.2 364.4L915.4 363.3L915.5 370.4L915.7 376.9L915.9 369.2L916.1 370.2L916.2 367.4L916.4 365.8L916.6 375.0L916.7 366.3L916.9 369.2L917.1 367.7L917.2 370.4L917.4 368.4L917.6 370.9L917.8 364.6L917.9 368.8L918.1 374.1L918.3 365.9L918.4 367.4L918.6 374.7L918.8 371.4L918.9 373.9L919.1 362.5L919.3 371.0L919.5 366.2L919.6 366.0L919.8 372.5L920.0 375.4L920.1 366.1L920.3 367.7L920.5 369.7L920.6 371.4L920.8 367.4L921.0 380.1L921.2 374.5L921.3 371.3L921.5 370.9L921.7 381.1L921.8 380.9L922.0 371.6L922.2 374.8L922.3 378.3L922.5 369.9L922.7 372.3L922.9 379.3L923.0 372.4L923.2 373.6L923.4 370.6L923.5 372.9L923.7 378.3L923.9 373.2L924.0 371.8L924.2 374.4L924.4 383.1L924.6 377.7L924.7 375.4L924.9 378.2L925.1 379.4L925.2 378.6L925.4 372.0L925.6 379.7L925.7 378.1L925.9 382.1L926.1 374.6L926.3 383.2L926.4 377.9L926.6 373.8L926.8 384.7L926.9 378.4L927.1 381.7L927.3 379.9L927.4 384.5L927.6 384.7L927.8 384.9L928.0 383.7L928.1 375.5L928.3 374.4L928.5 380.3L928.6 375.4L928.8 379.6L929.0 377.7L929.1 371.3L929.3 371.9L929.5 370.7L929.7 370.8L929.8 372.4L930.0 374.7L930.2 376.2L930.3 367.2L930.5 367.9L930.7 374.5L930.8 371.4L931.0 368.3L931.2 358.4L931.4 362.5L931.5 366.0L931.7 362.8L931.9 371.4L932.0 364.1L932.2 364.2L932.4 358.7L932.5 358.3L932.7 359.1L932.9 358.7L933.1 359.5L933.2 361.0L933.4 360.0L933.6 362.1L933.7 353.2L933.9 358.2L934.1 357.7L934.2 361.9L934.4 355.0L934.6 356.5L934.8 352.0L934.9 355.9L935.1 355.4L935.3 351.3L935.4 351.5L935.6 352.5L935.8 354.3L935.9 347.7L936.1 354.4L936.3 349.7L936.5 357.1L936.6 355.1L936.8 348.1L937.0 346.9L937.1 357.3L937.3 350.4L937.5 349.7L937.6 345.8L937.8 346.4L938.0 349.2L938.2 348.1L938.3 342.5L938.5 349.4L938.7 345.6L938.8 340.7L939.0 347.2L939.2 342.6L939.3 345.5L939.5 340.3L939.7 343.1L939.9 335.6L940.0 342.2L940.2 335.1L940.4 340.6L940.5 330.6L940.7 338.8L940.9 341.1L941.0 339.8L941.2 341.8L941.4 333.2L941.6 342.1L941.7 341.7L941.9 331.2L942.1 332.2L942.2 332.5L942.4 333.9L942.6 334.1L942.7 324.5L942.9 335.9L943.1 333.5L943.3 331.4L943.4 338.9L943.6 334.9L943.8 340.7L943.9 339.1L944.1 336.7L944.3 342.5L944.4 341.8L944.6 337.8L944.8 334.4L945.0 338.7L945.1 343.4L945.3 340.2L945.5 346.5L945.6 340.4L945.8 339.4L946.0 339.4L946.1 334.1L946.3 336.0L946.5 333.3L946.7 326.6L946.8 327.9L947.0 336.0L947.2 331.0L947.3 331.4L947.5 325.9L947.7 328.2L947.8 332.3L948.0 329.1L948.2 326.0L948.4 332.3L948.5 325.8L948.7 323.9L948.9 328.2L949.0 317.1L949.2 324.3L949.4 317.5L949.5 317.7L949.7 317.1L949.9 319.1L950.1 318.1L950.2 317.9L950.4 316.6L950.6 319.9L950.7 320.0L950.9 315.6L951.1 314.9L951.2 310.2L951.4 306.9L951.6 312.2L951.8 309.5L951.9 311.8L952.1 301.6L952.3 316.8L952.4 302.2L952.6 306.1L952.8 308.8L952.9 299.7L953.1 302.0L953.3 296.1L953.5 297.5L953.6 295.1L953.8 301.6L954.0 301.6L954.1 298.7L954.3 303.9L954.5 304.1L954.6 298.9L954.8 297.9L955.0 297.4L955.2 296.6L955.3 302.5L955.5 298.5L955.7 296.2L955.8 296.3L956.0 298.8L956.2 295.2L956.3 297.5L956.5 296.0L956.7 300.6L956.9 299.7L957.0 290.1L957.2 293.0L957.4 294.5L957.5 288.9L957.7 291.7L957.9 288.5L958.0 287.8L958.2 284.0L958.4 283.7L958.6 282.9L958.7 274.3L958.9 274.7L959.1 272.8L959.2 280.7L959.4 274.3L959.6 274.8L959.7 276.3L959.9 276.0L960.1 277.4L960.3 285.2L960.4 283.1L960.6 292.2L960.8 289.6L960.9 291.4L961.1 292.5L961.3 295.2L961.4 297.8L961.6 305.2L961.8 309.7L962.0 299.1L962.1 305.8L962.3 309.1L962.5 305.1L962.6 307.7L962.8 310.1L963.0 304.9L963.1 317.3L963.3 316.6L963.5 318.1L963.7 320.4L963.8 321.7L964.0 329.3L964.2 322.1L964.3 324.8L964.5 320.3L964.7 323.8L964.8 321.8L965.0 322.7L965.2 320.4L965.4 321.0L965.5 325.9L965.7 327.2L965.9 326.6L966.0 322.9L966.2 326.8L966.4 317.1L966.5 329.6L966.7 326.5L966.9 328.0L967.1 331.6L967.2 326.5L967.4 331.8L967.6 327.3L967.7 331.2L967.9 328.3L968.1 331.3L968.2 335.8L968.4 328.8L968.6 329.4L968.8 330.9L968.9 333.5L969.1 342.6L969.3 331.3L969.4 326.6L969.6 332.0L969.8 329.2L969.9 333.2L970.1 335.8L970.3 332.9L970.5 334.5L970.6 330.9L970.8 338.6L971.0 336.0L971.1 343.0L971.3 343.4L971.5 337.3L971.6 339.6L971.8 341.7L972.0 344.7L972.2 336.8L972.3 343.0L972.5 350.3L972.7 344.1L972.8 345.7L973.0 345.5L973.2 341.9L973.3 350.0L973.5 348.2L973.7 348.4L973.9 350.9L974.0 351.7L974.2 342.9L974.4 351.8L974.5 348.6L974.7 351.8L974.9 349.3L975.0 349.4L975.2 356.3L975.4 353.5L975.6 353.1L975.7 353.7L975.9 355.5L976.1 355.8L976.2 348.1L976.4 353.6L976.6 356.2L976.7 360.0L976.9 362.5L977.1 354.8L977.3 365.2L977.4 359.1L977.6 360.8L977.8 357.5L977.9 357.6L978.1 365.1L978.3 359.7L978.4 360.4L978.6 365.2L978.8 367.5L979.0 356.5L979.1 361.5L979.3 362.4L979.5 369.2L979.6 372.0L979.8 363.6L980.0 365.6L980.1 367.8L980.3 369.2L980.5 364.5L980.7 369.1L980.8 364.1L981.0 357.7L981.2 362.7L981.3 368.7L981.5 371.2L981.7 361.0L981.8 363.1L982.0 369.8L982.2 358.5L982.4 372.8L982.5 374.9L982.7 361.1L982.9 374.6L983.0 371.6L983.2 377.6L983.4 374.0L983.5 372.5L983.7 374.1L983.9 377.3L984.1 375.0L984.2 374.9L984.4 370.0L984.6 377.1L984.7 375.4L984.9 381.5L985.1 374.8L985.2 374.3L985.4 372.2L985.6 376.7L985.8 373.2L985.9 371.2L986.1 379.1L986.3 379.5L986.4 371.4L986.6 369.2L986.8 376.5L986.9 369.4L987.1 382.0L987.3 371.4L987.5 375.0L987.6 366.9L987.8 371.1L988.0 374.8L988.1 372.3L988.3 368.6L988.5 378.9L988.6 372.7L988.8 369.1L989.0 367.5L989.2 368.5L989.3 373.9L989.5 366.3L989.7 368.9L989.8 365.6L990.0 372.7L990.2 367.5L990.3 370.9L990.5 369.6L990.7 365.4L990.9 369.7L991.0 370.1L991.2 362.3L991.4 368.3L991.5 377.9L991.7 363.9L991.9 366.7L992.0 359.3L992.2 365.2L992.4 361.0L992.6 365.3L992.7 362.0L992.9 357.6L993.1 365.1L993.2 360.0L993.4 356.8L993.6 360.1L993.7 356.0L993.9 360.4" fill="none" stroke="#000" stroke-width="1.45" stroke-linejoin="round"/>
<path clip-path="url(#cl)" d="M530.2 704.2L530.4 703.5L530.5 710.3L530.7 700.6L530.9 714.1L531.0 698.7L531.2 719.7L531.4 712.9L531.6 711.4L531.7 709.9L531.9 718.0L532.1 715.2L532.2 716.1L532.4 723.3L532.6 715.2L532.7 716.5L532.9 720.3L533.1 724.0L533.3 717.3L533.4 719.1L533.6 718.6L533.8 722.6L533.9 726.9L534.1 713.5L534.3 718.1L534.4 718.7L534.6 722.3L534.8 727.5L535.0 719.2L535.1 720.6L535.3 725.8L535.5 712.7L535.6 715.7L535.8 717.8L536.0 720.6L536.1 722.2L536.3 718.4L536.5 731.4L536.7 718.0L536.8 721.1L537.0 728.6L537.2 727.2L537.3 723.2L537.5 725.7L537.7 728.5L537.8 724.2L538.0 728.2L538.2 719.8L538.4 725.6L538.5 716.4L538.7 720.9L538.9 720.0L539.0 733.9L539.2 724.9L539.4 729.7L539.5 723.4L539.7 728.0L539.9 728.1L540.1 725.5L540.2 735.6L540.4 722.1L540.6 735.5L540.7 747.4L540.9 728.5L541.1 733.8L541.2 725.5L541.4 734.6L541.6 725.6L541.8 739.4L541.9 733.6L542.1 726.0L542.3 728.5L542.4 726.3L542.6 733.0L542.8 738.8L542.9 731.2L543.1 726.3L543.3 727.6L543.5 732.4L543.6 717.5L543.8 733.9L544.0 732.3L544.1 715.7L544.3 735.5L544.5 719.2L544.6 726.5L544.8 733.8L545.0 717.4L545.2 715.7L545.3 719.1L545.5 718.1L545.7 722.3L545.8 719.0L546.0 718.0L546.2 716.9L546.3 717.4L546.5 712.5L546.7 718.0L546.9 715.0L547.0 708.1L547.2 722.9L547.4 704.4L547.5 714.5L547.7 705.1L547.9 710.1L548.0 709.9L548.2 710.7L548.4 712.7L548.6 699.1L548.7 719.4L548.9 705.2L549.1 697.9L549.2 694.4L549.4 714.8L549.6 710.4L549.7 700.6L549.9 704.5L550.1 707.2L550.3 699.9L550.4 696.5L550.6 698.3L550.8 702.7L550.9 697.7L551.1 690.2L551.3 700.9L551.4 686.5L551.6 691.5L551.8 702.3L552.0 696.4L552.1 696.1L552.3 695.1L552.5 700.1L552.6 693.7L552.8 682.7L553.0 694.8L553.1 675.9L553.3 681.3L553.5 701.5L553.7 698.1L553.8 689.4L554.0 691.3L554.2 691.9L554.3 696.4L554.5 684.4L554.7 681.9L554.8 681.4L555.0 683.7L555.2 682.5L555.4 676.8L555.5 681.4L555.7 669.4L555.9 672.8L556.0 667.5L556.2 664.6L556.4 676.0L556.5 666.1L556.7 661.1L556.9 665.8L557.1 658.8L557.2 666.7L557.4 666.9L557.6 666.8L557.7 653.9L557.9 657.8L558.1 667.9L558.2 655.3L558.4 662.9L558.6 663.7L558.8 646.6L558.9 660.5L559.1 657.2L559.3 657.2L559.4 661.1L559.6 653.5L559.8 650.6L559.9 652.9L560.1 646.8L560.3 650.8L560.5 634.7L560.6 653.5L560.8 638.7L561.0 642.5L561.1 639.1L561.3 635.7L561.5 633.6L561.6 631.2L561.8 619.4L562.0 623.4L562.2 631.0L562.3 616.4L562.5 614.1L562.7 632.6L562.8 628.1L563.0 630.8L563.2 622.6L563.3 624.8L563.5 628.3L563.7 627.8L563.9 624.8L564.0 617.7L564.2 622.5L564.4 618.8L564.5 636.8L564.7 626.4L564.9 629.4L565.0 633.7L565.2 633.9L565.4 638.5L565.6 633.8L565.7 630.4L565.9 650.5L566.1 638.4L566.2 641.5L566.4 641.1L566.6 638.8L566.7 638.3L566.9 638.7L567.1 624.9L567.3 628.8L567.4 619.7L567.6 626.5L567.8 609.2L567.9 613.6L568.1 613.1L568.3 607.7L568.4 609.4L568.6 608.3L568.8 605.1L569.0 605.1L569.1 606.3L569.3 603.6L569.5 601.0L569.6 600.2L569.8 600.3L570.0 600.8L570.1 598.8L570.3 597.6L570.5 598.3L570.7 591.0L570.8 590.2L571.0 587.5L571.2 592.8L571.3 585.4L571.5 589.0L571.7 589.6L571.8 583.3L572.0 580.6L572.2 577.2L572.4 575.0L572.5 566.0L572.7 564.0L572.9 559.1L573.0 552.3L573.2 546.7L573.4 543.2L573.5 537.5L573.7 533.6L573.9 529.5L574.1 528.1L574.2 522.8L574.4 521.3L574.6 513.8L574.7 509.4L574.9 499.3L575.1 498.4L575.2 496.4L575.4 493.9L575.6 492.8L575.8 488.7L575.9 488.4L576.1 489.5L576.3 486.2L576.4 481.4L576.6 479.7L576.8 482.9L576.9 477.1L577.1 474.4L577.3 469.5L577.5 466.9L577.6 460.9L577.8 450.5L578.0 452.9L578.1 451.4L578.3 448.9L578.5 452.4L578.6 450.4L578.8 451.2L579.0 454.9L579.2 452.1L579.3 451.3L579.5 447.8L579.7 445.9L579.8 450.1L580.0 445.5L580.2 444.7L580.3 442.4L580.5 441.9L580.7 445.1L580.9 438.2L581.0 436.8L581.2 436.3L581.4 434.0L581.5 427.3L581.7 422.4L581.9 421.0L582.0 419.1L582.2 418.0L582.4 417.7L582.6 417.9L582.7 419.1L582.9 419.7L583.1 419.4L583.2 428.1L583.4 436.4L583.6 442.0L583.7 445.4L583.9 451.8L584.1 456.8L584.3 476.5L584.4 482.2L584.6 487.0L584.8 485.0L584.9 486.6L585.1 487.8L585.3 484.9L585.4 485.3L585.6 486.9L585.8 508.2L586.0 508.3L586.1 507.0L586.3 508.8L586.5 511.4L586.6 513.4L586.8 510.5L587.0 511.3L587.1 512.0L587.3 512.6L587.5 511.4L587.7 512.8L587.8 511.7L588.0 508.1L588.2 504.6L588.3 499.2L588.5 496.8L588.7 500.5L588.8 519.6L589.0 532.9L589.2 529.5L589.4 538.9L589.5 531.4L589.7 534.0L589.9 531.2L590.0 542.1L590.2 541.0L590.4 546.6L590.5 559.7L590.7 567.8L590.9 593.7L591.1 630.3L591.2 631.0L591.4 632.4L591.6 636.7L591.7 632.8L591.9 633.4L592.1 645.0L592.2 642.3L592.4 636.9L592.6 633.3L592.8 636.6L592.9 641.6L593.1 644.6L593.3 653.5L593.4 639.8L593.6 642.5L593.8 640.3L593.9 643.2L594.1 641.3L594.3 638.1L594.5 649.8L594.6 645.6L594.8 652.3L595.0 643.6L595.1 648.5L595.3 651.5L595.5 638.8L595.6 642.6L595.8 654.5L596.0 651.9L596.2 642.4L596.3 649.1L596.5 648.2L596.7 652.1L596.8 663.8L597.0 653.3L597.2 667.7L597.3 656.0L597.5 653.9L597.7 666.7L597.9 663.9L598.0 666.7L598.2 670.2L598.4 666.1L598.5 667.4L598.7 652.2L598.9 657.5L599.0 664.8L599.2 664.1L599.4 668.5L599.6 663.6L599.7 673.7L599.9 680.1L600.1 674.1L600.2 677.0L600.4 676.8L600.6 680.6L600.7 678.4L600.9 676.1L601.1 681.5L601.3 682.6L601.4 675.5L601.6 686.6L601.8 687.1L601.9 689.8L602.1 687.4L602.3 694.6L602.4 697.0L602.6 691.5L602.8 698.7L603.0 702.8L603.1 704.3L603.3 697.1L603.5 698.2L603.6 705.3L603.8 701.2L604.0 721.7L604.1 705.5L604.3 707.2L604.5 716.4L604.7 712.0L604.8 703.6L605.0 716.8L605.2 713.9L605.3 717.9L605.5 713.6L605.7 718.8L605.8 724.0L606.0 725.6L606.2 721.3L606.4 724.6L606.5 725.1L606.7 731.5L606.9 731.2L607.0 726.5L607.2 737.8L607.4 731.9L607.5 736.1L607.7 727.2L607.9 731.8L608.1 727.6L608.2 726.6L608.4 727.1L608.6 724.8L608.7 721.5L608.9 719.5L609.1 710.0L609.2 714.4L609.4 701.2L609.6 700.0L609.8 710.1L609.9 710.4L610.1 719.5L610.3 714.9L610.4 717.1L610.6 709.5L610.8 713.3L610.9 717.0L611.1 713.5L611.3 712.5L611.5 711.0L611.6 705.4L611.8 705.4L612.0 702.5L612.1 712.4L612.3 709.6L612.5 708.3L612.6 714.6L612.8 710.5L613.0 720.0L613.2 725.4L613.3 718.5L613.5 713.2L613.7 709.8L613.8 729.3L614.0 721.8L614.2 714.0L614.3 726.8L614.5 712.9L614.7 720.1L614.9 721.9L615.0 721.9L615.2 718.5L615.4 738.0L615.5 723.8L615.7 728.7L615.9 727.5L616.0 719.5L616.2 725.8L616.4 730.6L616.6 733.7L616.7 726.0L616.9 729.0L617.1 724.4L617.2 728.5L617.4 711.3L617.6 726.9L617.7 719.6L617.9 719.0L618.1 706.0L618.3 714.7L618.4 722.8L618.6 731.1L618.8 714.0L618.9 713.2L619.1 718.4L619.3 716.3L619.4 710.7L619.6 711.9L619.8 709.8L620.0 714.2L620.1 714.1L620.3 718.3L620.5 712.8L620.6 710.5L620.8 706.8L621.0 710.0L621.1 698.7L621.3 714.5L621.5 703.4L621.7 708.4L621.8 695.5L622.0 704.3L622.2 699.8L622.3 695.6L622.5 692.0L622.7 689.8L622.8 703.2L623.0 699.0L623.2 692.0L623.4 691.4L623.5 685.4L623.7 678.4L623.9 677.6L624.0 683.2L624.2 686.0L624.4 680.9L624.5 691.8L624.7 690.7L624.9 689.1L625.1 679.2L625.2 687.8L625.4 689.2L625.6 682.9L625.7 678.3L625.9 700.7L626.1 694.1L626.2 686.7L626.4 695.0L626.6 690.1L626.8 684.2L626.9 680.6L627.1 681.3L627.3 682.6L627.4 672.8L627.6 668.8L627.8 670.9L627.9 650.2L628.1 663.5L628.3 658.5L628.5 658.5L628.6 655.5L628.8 656.3L629.0 652.9L629.1 650.6L629.3 647.4L629.5 648.5L629.6 641.2L629.8 647.2L630.0 630.7L630.2 638.8L630.3 638.0L630.5 626.9L630.7 629.7L630.8 637.5L631.0 628.0L631.2 622.3L631.3 609.3L631.5 625.5L631.7 622.6L631.9 623.7L632.0 629.8L632.2 617.0L632.4 616.1L632.5 610.0L632.7 612.4L632.9 612.1L633.0 615.8L633.2 614.2L633.4 606.6L633.6 607.6L633.7 617.1L633.9 604.0L634.1 612.7L634.2 616.9L634.4 611.1L634.6 608.4L634.7 614.0L634.9 608.2L635.1 605.9L635.3 604.5L635.4 611.4L635.6 608.7L635.8 612.9L635.9 602.4L636.1 602.2L636.3 601.2L636.4 604.7L636.6 599.1L636.8 607.5L637.0 604.6L637.1 598.7L637.3 589.2L637.5 596.5L637.6 615.4L637.8 608.5L638.0 610.9L638.1 609.0L638.3 614.6L638.5 601.0L638.7 597.3L638.8 596.1L639.0 602.0L639.2 602.3L639.3 597.8L639.5 591.3L639.7 581.8L639.8 589.8L640.0 580.8L640.2 582.4L640.4 585.5L640.5 586.7L640.7 588.6L640.9 592.6L641.0 592.2L641.2 603.8L641.4 604.2L641.5 613.3L641.7 600.7L641.9 619.6L642.1 615.5L642.2 617.7L642.4 617.0L642.6 619.6L642.7 618.5L642.9 633.3L643.1 629.3L643.2 636.2L643.4 638.8L643.6 633.5L643.8 636.9L643.9 638.3L644.1 647.6L644.3 644.7L644.4 646.8L644.6 651.6L644.8 649.2L644.9 662.4L645.1 648.2L645.3 661.9L645.5 664.5L645.6 652.6L645.8 665.2L646.0 663.9L646.1 668.9L646.3 659.2L646.5 668.2L646.6 662.8L646.8 667.6L647.0 678.3L647.2 671.1L647.3 660.9L647.5 666.7L647.7 669.3L647.8 679.9L648.0 669.1L648.2 662.9L648.3 675.7L648.5 669.5L648.7 668.4L648.9 660.7L649.0 671.1L649.2 661.2L649.4 649.6L649.5 652.6L649.7 652.6L649.9 654.3L650.0 656.7L650.2 646.2L650.4 644.4L650.6 657.0L650.7 642.9L650.9 638.4L651.1 637.7L651.2 631.1L651.4 634.3L651.6 633.2L651.7 625.7L651.9 628.3L652.1 621.6L652.3 620.8L652.4 614.9L652.6 612.1L652.8 607.3L652.9 610.1L653.1 605.9L653.3 603.4L653.4 598.0L653.6 595.2L653.8 594.3L654.0 595.3L654.1 592.2L654.3 586.7L654.5 587.5L654.6 589.9L654.8 582.4L655.0 586.2L655.1 578.8L655.3 579.4L655.5 571.1L655.7 574.3L655.8 564.1L656.0 565.9L656.2 561.3L656.3 553.2L656.5 552.5L656.7 557.7L656.8 552.9L657.0 552.7L657.2 546.4L657.4 533.8L657.5 541.7L657.7 537.2L657.9 535.5L658.0 533.8L658.2 530.9L658.4 528.4L658.5 533.6L658.7 529.1L658.9 523.7L659.1 519.3L659.2 518.4L659.4 511.2L659.6 509.7L659.7 510.7L659.9 518.7L660.1 522.0L660.2 525.1L660.4 539.5L660.6 540.4L660.8 544.9L660.9 548.0L661.1 558.3L661.3 567.4L661.4 567.3L661.6 573.2L661.8 570.8L661.9 580.0L662.1 584.7L662.3 593.3L662.5 593.2L662.6 594.7L662.8 602.1L663.0 602.1L663.1 609.3L663.3 608.1L663.5 608.3L663.6 609.0L663.8 612.3L664.0 609.3L664.2 609.1L664.3 607.5L664.5 620.2L664.7 620.8L664.8 624.0L665.0 624.9L665.2 632.9L665.3 627.3L665.5 637.1L665.7 633.3L665.9 637.4L666.0 637.7L666.2 644.2L666.4 645.4L666.5 650.1L666.7 649.2L666.9 649.0L667.0 657.6L667.2 662.3L667.4 662.9L667.6 662.7L667.7 665.5L667.9 655.4L668.1 656.3L668.2 657.7L668.4 652.0L668.6 644.4L668.7 646.4L668.9 639.8L669.1 639.2L669.3 629.2L669.4 629.3L669.6 629.4L669.8 626.6L669.9 624.8L670.1 620.3L670.3 617.0L670.4 622.1L670.6 627.0L670.8 623.1L671.0 630.6L671.1 634.6L671.3 639.5L671.5 645.9L671.6 642.0L671.8 651.7L672.0 648.1L672.1 654.9L672.3 659.3L672.5 663.7L672.7 666.3L672.8 670.3L673.0 674.1L673.2 677.4L673.3 675.4L673.5 679.8L673.7 685.9L673.8 692.0L674.0 696.5L674.2 705.4L674.4 699.7L674.5 699.9L674.7 705.2L674.9 708.4L675.0 708.3L675.2 706.1L675.4 710.8L675.5 712.6L675.7 709.9L675.9 712.2L676.1 721.5L676.2 712.2L676.4 721.5L676.6 721.1L676.7 727.3L676.9 725.8L677.1 722.1L677.2 729.8L677.4 725.0L677.6 734.1L677.8 734.0L677.9 729.2L678.1 731.2L678.3 728.6L678.4 724.5L678.6 730.0L678.8 727.3L678.9 728.0L679.1 728.0L679.3 728.4L679.5 726.5L679.6 722.2L679.8 722.1L680.0 722.4L680.1 720.0L680.3 719.0L680.5 725.0L680.6 720.0L680.8 723.8L681.0 714.6L681.2 716.3L681.3 714.3L681.5 713.8L681.7 713.5L681.8 713.3L682.0 711.7L682.2 718.1L682.3 712.9L682.5 706.7L682.7 705.5L682.9 707.9L683.0 705.5L683.2 700.1L683.4 703.2L683.5 694.0L683.7 695.3L683.9 700.6L684.0 685.1L684.2 691.0L684.4 693.3L684.6 688.6L684.7 685.4L684.9 683.9L685.1 677.5L685.2 679.2L685.4 683.5L685.6 679.8L685.7 680.8L685.9 679.1L686.1 679.6L686.3 671.1L686.4 675.7L686.6 674.9L686.8 674.3L686.9 671.4L687.1 665.7L687.3 675.9L687.4 675.9L687.6 681.2L687.8 674.2L688.0 677.0L688.1 672.3L688.3 667.9L688.5 670.6L688.6 663.5L688.8 668.2L689.0 666.2L689.1 661.8L689.3 669.9L689.5 669.6L689.7 667.7L689.8 669.8L690.0 673.7L690.2 667.5L690.3 663.5L690.5 665.8L690.7 672.8L690.8 671.7L691.0 665.8L691.2 677.3L691.4 673.8L691.5 680.0L691.7 679.5L691.9 674.7L692.0 678.1L692.2 676.3L692.4 677.2L692.5 680.6L692.7 685.1L692.9 689.8L693.1 682.4L693.2 689.9L693.4 688.6L693.6 689.0L693.7 695.3L693.9 690.1L694.1 697.3L694.2 691.2L694.4 689.4L694.6 696.4L694.8 688.3L694.9 689.9L695.1 694.2L695.3 695.5L695.4 694.9L695.6 688.8L695.8 691.8L695.9 699.6L696.1 701.0L696.3 696.2L696.5 702.4L696.6 703.4L696.8 707.7L697.0 702.2L697.1 711.9L697.3 706.3L697.5 714.3L697.6 713.5L697.8 707.2L698.0 711.2L698.2 714.0L698.3 717.2L698.5 708.4L698.7 712.3L698.8 717.1L699.0 717.0L699.2 711.5L699.3 712.5L699.5 718.1L699.7 712.9L699.9 718.2L700.0 721.3L700.2 718.3L700.4 708.3L700.5 723.7L700.7 724.0L700.9 725.5L701.0 723.8L701.2 714.4L701.4 726.5L701.6 722.1L701.7 724.2L701.9 719.7L702.1 719.1L702.2 718.9L702.4 725.8L702.6 720.4L702.7 718.4L702.9 713.9L703.1 720.5L703.3 718.5L703.4 718.8L703.6 721.8L703.8 720.6L703.9 717.5L704.1 718.1L704.3 717.4L704.4 719.6L704.6 720.0L704.8 718.6L705.0 715.5L705.1 722.9L705.3 724.0L705.5 717.1L705.6 723.5L705.8 721.3L706.0 715.1L706.1 724.2L706.3 728.9L706.5 723.1L706.7 724.0L706.8 731.5L707.0 724.0L707.2 725.4L707.3 728.3L707.5 731.3L707.7 730.6L707.8 725.4L708.0 725.5L708.2 726.4L708.4 723.8L708.5 721.3L708.7 719.7L708.9 726.0L709.0 721.7L709.2 733.0L709.4 723.6L709.5 717.4L709.7 719.5L709.9 720.0L710.1 719.3L710.2 718.7L710.4 717.8L710.6 714.7L710.7 716.9L710.9 722.0L711.1 711.0L711.2 710.4L711.4 713.7L711.6 715.0L711.8 712.5L711.9 713.2L712.1 708.1L712.3 707.7L712.4 711.5L712.6 711.9L712.8 716.1L712.9 716.0L713.1 703.2L713.3 713.6L713.5 708.3L713.6 703.1L713.8 713.1L714.0 711.3L714.1 710.9L714.3 707.3L714.5 708.2L714.6 711.2L714.8 706.1L715.0 711.4L715.2 712.2L715.3 711.0L715.5 712.7L715.7 711.1L715.8 706.7L716.0 707.1L716.2 711.6L716.3 714.7L716.5 711.4L716.7 708.7L716.9 711.2L717.0 703.4L717.2 706.5L717.4 708.8L717.5 710.7L717.7 710.5L717.9 711.5L718.0 708.8L718.2 712.0L718.4 716.0L718.6 708.7L718.7 712.1L718.9 716.2L719.1 724.2L719.2 721.9L719.4 726.1L719.6 726.1L719.7 718.9L719.9 720.1L720.1 715.4L720.3 724.2L720.4 722.1L720.6 721.2L720.8 721.1L720.9 720.0L721.1 718.6L721.3 718.6L721.4 721.8L721.6 713.7L721.8 712.2L722.0 715.6L722.1 719.4L722.3 715.2L722.5 712.8L722.6 716.2L722.8 712.7L723.0 704.2L723.1 707.0L723.3 702.1L723.5 708.8L723.7 707.2L723.8 710.0L724.0 715.8L724.2 704.6L724.3 706.3L724.5 704.1L724.7 694.0L724.8 701.3L725.0 700.8L725.2 703.6L725.4 698.3L725.5 695.4L725.7 701.7L725.9 698.1L726.0 693.9L726.2 693.3L726.4 694.1L726.5 697.4L726.7 698.7L726.9 687.0L727.1 695.6L727.2 690.4L727.4 690.7L727.6 692.1L727.7 683.7L727.9 689.9L728.1 680.6L728.2 683.0L728.4 680.6L728.6 689.6L728.8 688.5L728.9 684.2L729.1 682.4L729.3 677.4L729.4 685.3L729.6 683.1L729.8 680.3L729.9 675.5L730.1 673.7L730.3 673.8L730.5 678.4L730.6 668.8L730.8 672.2L731.0 677.3L731.1 673.6L731.3 676.1L731.5 670.2L731.6 669.5L731.8 672.4L732.0 668.8L732.2 666.8L732.3 662.7L732.5 658.2L732.7 668.9L732.8 660.8L733.0 658.7L733.2 664.2L733.3 658.3L733.5 657.6L733.7 661.8L733.9 664.9L734.0 667.3L734.2 669.4L734.4 672.3L734.5 669.2L734.7 672.2L734.9 671.5L735.0 670.5L735.2 675.7L735.4 676.6L735.6 683.6L735.7 679.8L735.9 675.9L736.1 682.0L736.2 679.7L736.4 687.9L736.6 676.2L736.7 681.3L736.9 682.4L737.1 686.4L737.3 686.5L737.4 682.0L737.6 682.0L737.8 690.9L737.9 696.9L738.1 697.7L738.3 691.5L738.4 695.7L738.6 691.5L738.8 690.2L739.0 701.4L739.1 700.2L739.3 697.2L739.5 698.0L739.6 703.9L739.8 702.5L740.0 700.9L740.1 704.2L740.3 704.0L740.5 703.4L740.7 703.1L740.8 710.3L741.0 705.9L741.2 703.5L741.3 714.5L741.5 711.9L741.7 708.7L741.8 706.0L742.0 706.6L742.2 699.8L742.4 704.9L742.5 705.5L742.7 703.3L742.9 705.3L743.0 700.2L743.2 703.4L743.4 696.2L743.5 701.7L743.7 699.0L743.9 695.8L744.1 698.9L744.2 700.1L744.4 697.3L744.6 703.2L744.7 697.1L744.9 703.5L745.1 702.8L745.2 697.8L745.4 705.7L745.6 695.1L745.8 702.5L745.9 700.8L746.1 703.6L746.3 694.8L746.4 696.3L746.6 697.8L746.8 701.1L746.9 701.5L747.1 701.4L747.3 700.4L747.5 698.8L747.6 696.2L747.8 699.3L748.0 702.4L748.1 703.6L748.3 697.3L748.5 702.7L748.6 692.9L748.8 700.4L749.0 692.8L749.2 697.3L749.3 692.1L749.5 691.5L749.7 692.5L749.8 699.5L750.0 690.9L750.2 695.3L750.3 692.9L750.5 692.9L750.7 692.4L750.9 692.7L751.0 684.1L751.2 687.3L751.4 686.9L751.5 681.8L751.7 683.8L751.9 677.0L752.0 682.1L752.2 675.0L752.4 675.1L752.6 677.6L752.7 677.1L752.9 669.3L753.1 667.4L753.2 672.0L753.4 655.7L753.6 670.2L753.7 670.6L753.9 662.5L754.1 671.9L754.3 669.6L754.4 670.8L754.6 661.1L754.8 668.9L754.9 670.9L755.1 670.9L755.3 671.8L755.4 673.0L755.6 664.0L755.8 675.0L756.0 674.0L756.1 677.1L756.3 676.2L756.5 678.5L756.6 680.1L756.8 686.2L757.0 676.7L757.1 686.7L757.3 679.8L757.5 677.8L757.7 676.1L757.8 685.4L758.0 676.7L758.2 686.4L758.3 684.7L758.5 681.7L758.7 681.7L758.8 686.6L759.0 685.8L759.2 688.4L759.4 686.0L759.5 684.5L759.7 689.0L759.9 682.8L760.0 691.1L760.2 688.5L760.4 684.5L760.5 685.4L760.7 688.5L760.9 683.2L761.1 696.0L761.2 694.8L761.4 687.4L761.6 691.6L761.7 699.0L761.9 694.5L762.1 689.5L762.2 685.6L762.4 688.1L762.6 699.4L762.8 696.5L762.9 690.7L763.1 698.9L763.3 695.2L763.4 694.5L763.6 695.5L763.8 696.2L763.9 704.9L764.1 695.3L764.3 697.8L764.5 705.0L764.6 706.1L764.8 697.0L765.0 709.2L765.1 705.9L765.3 696.4L765.5 709.5L765.6 697.3L765.8 706.1L766.0 699.1L766.2 696.5L766.3 706.4L766.5 704.6L766.7 702.4L766.8 703.2L767.0 701.9L767.2 701.0L767.3 697.7L767.5 703.8L767.7 701.5L767.9 700.2L768.0 698.7L768.2 699.6L768.4 694.6L768.5 699.1L768.7 696.2L768.9 704.8L769.0 695.9L769.2 697.7L769.4 699.6L769.6 702.7L769.7 701.5L769.9 699.9L770.1 708.3L770.2 700.0L770.4 701.4L770.6 710.9L770.7 697.0L770.9 704.3L771.1 702.4L771.3 695.7L771.4 698.5L771.6 704.2L771.8 695.5L771.9 700.5L772.1 704.9L772.3 700.5L772.4 701.8L772.6 695.5L772.8 693.0L773.0 690.4L773.1 688.8L773.3 690.0L773.5 685.2L773.6 689.9L773.8 681.8L774.0 678.1L774.1 683.1L774.3 671.3L774.5 666.0L774.7 667.1L774.8 659.6L775.0 663.2L775.2 663.8L775.3 658.4L775.5 651.7L775.7 652.1L775.8 656.2L776.0 660.6L776.2 656.1L776.4 657.8L776.5 665.2L776.7 663.6L776.9 665.7L777.0 667.9L777.2 664.7L777.4 668.8L777.5 675.2L777.7 672.1L777.9 673.4L778.1 676.4L778.2 677.9L778.4 687.4L778.6 675.6L778.7 680.4L778.9 688.8L779.1 682.3L779.2 684.8L779.4 678.8L779.6 689.4L779.8 690.1L779.9 691.1L780.1 688.3L780.3 691.6L780.4 691.1L780.6 695.8L780.8 693.6L780.9 697.8L781.1 690.6L781.3 695.4L781.5 686.5L781.6 697.8L781.8 702.3L782.0 699.2L782.1 710.2L782.3 698.1L782.5 701.5L782.6 700.1L782.8 702.7L783.0 703.7L783.2 700.7L783.3 703.5L783.5 716.0L783.7 708.0L783.8 713.5L784.0 705.9L784.2 711.2L784.3 714.5L784.5 712.0L784.7 710.9L784.9 712.3L785.0 713.4L785.2 716.8L785.4 718.4L785.5 708.9L785.7 706.2L785.9 713.7L786.0 714.7L786.2 717.7L786.4 719.3L786.6 712.8L786.7 723.6L786.9 716.8L787.1 709.2L787.2 720.0L787.4 717.6L787.6 717.4L787.7 709.4L787.9 713.7L788.1 714.9L788.3 713.0L788.4 715.5L788.6 717.0L788.8 717.4L788.9 715.7L789.1 709.5L789.3 716.1L789.4 709.8L789.6 711.4L789.8 706.4L790.0 701.3L790.1 697.2L790.3 706.0L790.5 702.0L790.6 703.9L790.8 706.7L791.0 696.7L791.1 695.1L791.3 702.3L791.5 702.0L791.7 698.9L791.8 697.3L792.0 692.5L792.2 697.6L792.3 694.4L792.5 698.3L792.7 699.6L792.8 693.2L793.0 696.3L793.2 694.7L793.4 696.0L793.5 698.6L793.7 694.5L793.9 694.1L794.0 693.7L794.2 688.0L794.4 688.7L794.5 689.2L794.7 691.7L794.9 691.0L795.1 693.9L795.2 679.9L795.4 683.1L795.6 675.6L795.7 679.3L795.9 674.1L796.1 684.1L796.2 681.6L796.4 673.6L796.6 678.1L796.8 678.8L796.9 681.7L797.1 677.3L797.3 673.6L797.4 671.7L797.6 673.5L797.8 671.3L797.9 667.3L798.1 663.4L798.3 671.2L798.5 663.3L798.6 664.1L798.8 667.2L799.0 662.9L799.1 666.5L799.3 656.8L799.5 664.2L799.6 657.5L799.8 658.2L800.0 661.4L800.2 667.3L800.3 665.6L800.5 664.3L800.7 675.7L800.8 668.7L801.0 673.4L801.2 676.2L801.3 674.7L801.5 679.4L801.7 682.1L801.9 681.0L802.0 687.0L802.2 682.4L802.4 682.2L802.5 688.8L802.7 685.9L802.9 692.8L803.0 692.6L803.2 692.9L803.4 698.6L803.6 700.1L803.7 688.0L803.9 699.0L804.1 701.4L804.2 703.5L804.4 700.2L804.6 698.5L804.7 704.1L804.9 707.0L805.1 697.0L805.3 699.9L805.4 704.1L805.6 697.0L805.8 705.4L805.9 711.6L806.1 705.0L806.3 710.3L806.4 707.0L806.6 712.8L806.8 714.4L807.0 717.5L807.1 713.2L807.3 717.5L807.5 715.4L807.6 712.5L807.8 720.5L808.0 712.9L808.1 716.4L808.3 725.7L808.5 720.0L808.7 713.9L808.8 718.7L809.0 715.9L809.2 717.9L809.3 713.1L809.5 720.2L809.7 713.8L809.8 721.8L810.0 722.2L810.2 724.6L810.4 730.5L810.5 715.9L810.7 718.2L810.9 719.5L811.0 721.7L811.2 727.8L811.4 723.6L811.5 723.2L811.7 721.6L811.9 724.0L812.1 725.3L812.2 727.1L812.4 722.5L812.6 728.3L812.7 731.3L812.9 730.9L813.1 724.2L813.2 731.8L813.4 731.3L813.6 728.8L813.8 722.4L813.9 721.0L814.1 726.4L814.3 721.8L814.4 720.1L814.6 728.3L814.8 727.9L814.9 726.4L815.1 728.5L815.3 726.5L815.5 718.0L815.6 726.5L815.8 722.0L816.0 722.8L816.1 726.9L816.3 722.4L816.5 726.6L816.6 720.5L816.8 718.6L817.0 717.1L817.2 719.1L817.3 712.9L817.5 719.0L817.7 718.6L817.8 716.8L818.0 710.0L818.2 710.1L818.3 721.0L818.5 714.3L818.7 723.2L818.9 714.9L819.0 718.9L819.2 711.7L819.4 714.6L819.5 716.0L819.7 719.0L819.9 723.1L820.0 720.0L820.2 710.4L820.4 715.9L820.6 715.0L820.7 712.9L820.9 717.5L821.1 721.1L821.2 712.9L821.4 718.9L821.6 719.7L821.7 709.9L821.9 720.8L822.1 720.2L822.3 714.5L822.4 719.8L822.6 713.9L822.8 717.2L822.9 715.1L823.1 708.9L823.3 712.8L823.4 710.7L823.6 709.0L823.8 705.9L824.0 706.9L824.1 704.7L824.3 713.5L824.5 701.0L824.6 708.5L824.8 705.3L825.0 702.4L825.1 709.6L825.3 703.2L825.5 710.6L825.7 704.7L825.8 706.3L826.0 704.0L826.2 706.6L826.3 707.3L826.5 701.7L826.7 703.3L826.8 710.0L827.0 700.7L827.2 709.9L827.4 701.1L827.5 700.3L827.7 695.7L827.9 698.8L828.0 695.2L828.2 699.6L828.4 704.3L828.5 701.2L828.7 698.9L828.9 697.1L829.1 698.3L829.2 695.1L829.4 695.6L829.6 708.0L829.7 701.2L829.9 696.5L830.1 702.5L830.2 705.6L830.4 697.1L830.6 699.0L830.8 694.3L830.9 692.9L831.1 704.3L831.3 712.1L831.4 695.7L831.6 692.1L831.8 703.8L831.9 702.2L832.1 699.8L832.3 703.5L832.5 696.3L832.6 698.5L832.8 700.3L833.0 695.9L833.1 698.8L833.3 695.8L833.5 698.4L833.6 697.0L833.8 688.5L834.0 696.4L834.2 690.3L834.3 692.4L834.5 689.1L834.7 698.6L834.8 694.0L835.0 693.6L835.2 700.0L835.3 698.0L835.5 694.5L835.7 687.3L835.9 698.1L836.0 694.6L836.2 694.3L836.4 698.6L836.5 693.4L836.7 695.6L836.9 699.5L837.0 698.3L837.2 693.8L837.4 701.9L837.6 700.8L837.7 703.8L837.9 696.3L838.1 697.4L838.2 700.8L838.4 698.5L838.6 697.4L838.7 696.5L838.9 695.8L839.1 694.6L839.3 694.7L839.4 699.0L839.6 696.5L839.8 692.4L839.9 698.4L840.1 704.9L840.3 704.0L840.4 691.1L840.6 695.9L840.8 702.5L841.0 700.0L841.1 700.3L841.3 699.7L841.5 700.7L841.6 696.8L841.8 705.6L842.0 697.2L842.1 701.0L842.3 707.8L842.5 706.3L842.7 702.3L842.8 702.5L843.0 700.5L843.2 701.1L843.3 702.4L843.5 708.8L843.7 701.6L843.8 704.5L844.0 703.0L844.2 701.9L844.4 698.3L844.5 701.2L844.7 698.0L844.9 696.8L845.0 693.6L845.2 686.1L845.4 696.3L845.5 695.5L845.7 689.6L845.9 689.9L846.1 690.7L846.2 684.8L846.4 690.4L846.6 689.4L846.7 689.5L846.9 689.5L847.1 678.2L847.2 687.3L847.4 683.2L847.6 688.9L847.8 688.4L847.9 687.1L848.1 683.3L848.3 694.1L848.4 682.7L848.6 678.6L848.8 686.0L848.9 676.4L849.1 689.1L849.3 685.2L849.5 686.1L849.6 684.7L849.8 681.9L850.0 674.9L850.1 677.3L850.3 681.5L850.5 678.2L850.6 680.1L850.8 675.7L851.0 674.9L851.2 678.8L851.3 680.1L851.5 676.9L851.7 672.8L851.8 669.8L852.0 683.7L852.2 671.1L852.3 671.8L852.5 672.0L852.7 677.9L852.9 671.2L853.0 675.9L853.2 674.9L853.4 669.6L853.5 674.8L853.7 669.7L853.9 674.0L854.0 677.7L854.2 674.2L854.4 671.8L854.6 673.9L854.7 675.1L854.9 677.3L855.1 667.4L855.2 669.3L855.4 678.6L855.6 676.4L855.7 677.1L855.9 678.1L856.1 676.9L856.3 676.0L856.4 677.7L856.6 679.2L856.8 677.3L856.9 675.4L857.1 670.6L857.3 675.0L857.4 668.0L857.6 669.6L857.8 672.6L858.0 671.8L858.1 675.6L858.3 674.0L858.5 671.5L858.6 667.2L858.8 667.9L859.0 666.2L859.1 674.5L859.3 668.1L859.5 662.4L859.7 660.9L859.8 669.9L860.0 659.9L860.2 665.0L860.3 663.7L860.5 667.3L860.7 658.0L860.8 663.6L861.0 662.0L861.2 664.2L861.4 666.3L861.5 660.2L861.7 658.2L861.9 662.8L862.0 652.0L862.2 658.8L862.4 653.0L862.5 651.5L862.7 649.4L862.9 648.9L863.1 660.4L863.2 660.9L863.4 657.6L863.6 662.1L863.7 657.7L863.9 655.6L864.1 653.1L864.2 661.8L864.4 662.2L864.6 664.5L864.8 655.3L864.9 657.9L865.1 653.3L865.3 664.9L865.4 663.1L865.6 662.5L865.8 660.3L865.9 659.9L866.1 659.2L866.3 666.0L866.5 658.4L866.6 665.5L866.8 663.0L867.0 657.4L867.1 655.6L867.3 658.8L867.5 662.4L867.6 657.0L867.8 665.9L868.0 668.4L868.2 666.0L868.3 656.0L868.5 653.3L868.7 668.1L868.8 671.2L869.0 662.8L869.2 667.2L869.3 663.9L869.5 662.7L869.7 670.6L869.9 664.0L870.0 670.8L870.2 675.2L870.4 667.3L870.5 676.8L870.7 662.8L870.9 673.4L871.0 669.7L871.2 681.8L871.4 670.8L871.6 667.4L871.7 678.9L871.9 665.0L872.1 674.5L872.2 669.4L872.4 679.7L872.6 672.8L872.7 676.5L872.9 671.7L873.1 666.2L873.3 660.7L873.4 678.0L873.6 670.2L873.8 663.2L873.9 666.3L874.1 671.6L874.3 659.6L874.4 676.1L874.6 663.9L874.8 662.7L875.0 669.5L875.1 663.9L875.3 657.7L875.5 665.8L875.6 663.0L875.8 665.5L876.0 655.7L876.1 654.3L876.3 661.9L876.5 656.6L876.7 648.2L876.8 655.0L877.0 660.1L877.2 653.4L877.3 662.2L877.5 653.6L877.7 655.0L877.8 647.5L878.0 650.8L878.2 653.2L878.4 656.3L878.5 654.0L878.7 657.6L878.9 642.3L879.0 652.0L879.2 651.1L879.4 646.9L879.5 651.3L879.7 648.0L879.9 653.3L880.1 649.6L880.2 653.4L880.4 646.8L880.6 656.7L880.7 652.6L880.9 658.8L881.1 649.9L881.2 648.1L881.4 650.9L881.6 648.1L881.8 645.3L881.9 650.0L882.1 649.6L882.3 646.6L882.4 647.3L882.6 644.1L882.8 648.7L882.9 641.3L883.1 654.8L883.3 646.6L883.5 650.3L883.6 639.9L883.8 646.5L884.0 643.8L884.1 648.4L884.3 647.3L884.5 635.3L884.6 647.6L884.8 634.9L885.0 647.4L885.2 641.6L885.3 637.0L885.5 646.5L885.7 644.1L885.8 640.1L886.0 641.9L886.2 648.3L886.3 640.4L886.5 643.5L886.7 656.7L886.9 645.3L887.0 651.3L887.2 652.3L887.4 655.4L887.5 655.7L887.7 640.4L887.9 650.0L888.0 658.0L888.2 649.1L888.4 661.4L888.6 654.4L888.7 647.8L888.9 656.3L889.1 662.9L889.2 651.1L889.4 657.0L889.6 650.5L889.7 652.2L889.9 655.6L890.1 657.7L890.3 657.2L890.4 656.8L890.6 667.2L890.8 651.3L890.9 648.1L891.1 659.7L891.3 658.4L891.4 651.4L891.6 666.4L891.8 655.7L892.0 652.8L892.1 661.7L892.3 663.2L892.5 671.6L892.6 654.0L892.8 655.7L893.0 660.7L893.1 660.4L893.3 662.5L893.5 660.0L893.7 656.6L893.8 662.1L894.0 668.0L894.2 668.9L894.3 662.8L894.5 669.1L894.7 669.2L894.8 665.7L895.0 667.0L895.2 669.5L895.4 683.0L895.5 671.5L895.7 667.3L895.9 671.3L896.0 670.2L896.2 678.7L896.4 664.1L896.5 669.7L896.7 679.4L896.9 678.1L897.1 677.0L897.2 680.9L897.4 671.9L897.6 680.3L897.7 673.7L897.9 673.5L898.1 682.3L898.2 676.7L898.4 679.2L898.6 684.2L898.8 676.9L898.9 685.1L899.1 693.1L899.3 682.2L899.4 688.1L899.6 687.7L899.8 678.6L899.9 678.6L900.1 685.5L900.3 676.0L900.5 686.6L900.6 687.6L900.8 688.5L901.0 688.3L901.1 692.3L901.3 684.4L901.5 692.1L901.6 688.2L901.8 688.1L902.0 684.8L902.2 689.9L902.3 681.8L902.5 688.6L902.7 690.3L902.8 681.9L903.0 680.5L903.2 681.3L903.3 684.5L903.5 686.3L903.7 688.6L903.9 693.0L904.0 691.2L904.2 684.3L904.4 680.7L904.5 676.3L904.7 685.2L904.9 683.2L905.0 678.9L905.2 678.8L905.4 678.5L905.6 666.5L905.7 677.6L905.9 678.8L906.1 676.2L906.2 671.2L906.4 675.8L906.6 677.3L906.7 682.8L906.9 678.8L907.1 676.7L907.3 674.4L907.4 669.1L907.6 673.8L907.8 670.3L907.9 676.9L908.1 683.0L908.3 683.7L908.4 683.7L908.6 680.2L908.8 685.4L909.0 680.2L909.1 673.1L909.3 683.5L909.5 683.7L909.6 676.1L909.8 682.5L910.0 674.2L910.1 684.1L910.3 692.8L910.5 685.0L910.7 695.0L910.8 690.9L911.0 687.2L911.2 683.3L911.3 696.0L911.5 696.5L911.7 687.3L911.8 693.2L912.0 701.2L912.2 693.5L912.4 699.7L912.5 689.6L912.7 695.3L912.9 703.9L913.0 695.9L913.2 695.6L913.4 696.7L913.5 702.2L913.7 697.3L913.9 704.8L914.1 708.7L914.2 713.9L914.4 705.6L914.6 715.6L914.7 711.4L914.9 708.5L915.1 712.6L915.2 717.9L915.4 718.5L915.6 715.7L915.8 712.5L915.9 717.5L916.1 715.3L916.3 715.8L916.4 716.9L916.6 724.8L916.8 711.3L916.9 717.0L917.1 712.8L917.3 722.3L917.5 724.0L917.6 725.5L917.8 718.0L918.0 720.4L918.1 724.2L918.3 721.9L918.5 722.9L918.6 722.9L918.8 723.8L919.0 722.4L919.2 725.5L919.3 717.1L919.5 722.4L919.7 718.6L919.8 724.9L920.0 722.2L920.2 728.3L920.3 731.9L920.5 720.5L920.7 722.8L920.9 728.2L921.0 733.6L921.2 730.7L921.4 729.4L921.5 727.3L921.7 725.7L921.9 729.8L922.0 730.6L922.2 729.2L922.4 726.0L922.6 721.4L922.7 725.2L922.9 727.6L923.1 724.2L923.2 731.3L923.4 723.3L923.6 728.7L923.7 731.9L923.9 734.2L924.1 731.7L924.3 736.4L924.4 728.2L924.6 727.5L924.8 736.4L924.9 727.4L925.1 730.9L925.3 723.8L925.4 737.2L925.6 735.5L925.8 728.8L926.0 724.4L926.1 733.8L926.3 734.1L926.5 738.4L926.6 741.6L926.8 734.1L927.0 732.1L927.1 732.1L927.3 731.8L927.5 726.9L927.7 729.2L927.8 733.0L928.0 725.8L928.2 727.4L928.3 739.2L928.5 730.5L928.7 737.4L928.8 738.8L929.0 733.8L929.2 737.7L929.4 733.1L929.5 729.9L929.7 733.3L929.9 733.8L930.0 733.7L930.2 733.1L930.4 730.6L930.5 737.1L930.7 730.9L930.9 729.6L931.1 735.4L931.2 726.2L931.4 730.5L931.6 737.0L931.7 730.1L931.9 736.1L932.1 728.0L932.2 726.5L932.4 727.8L932.6 725.6L932.8 726.2L932.9 725.5L933.1 730.9L933.3 728.7L933.4 725.5L933.6 722.7L933.8 740.7L933.9 724.6L934.1 731.6L934.3 719.4L934.5 721.0L934.6 729.8L934.8 718.7L935.0 718.5L935.1 722.8L935.3 719.4L935.5 721.1L935.6 722.8L935.8 725.8L936.0 722.3L936.2 722.4L936.3 726.7L936.5 726.6L936.7 718.0L936.8 710.6L937.0 714.1L937.2 723.2L937.3 715.6L937.5 714.1L937.7 714.8L937.9 723.8L938.0 716.2L938.2 713.8L938.4 711.8L938.5 709.5L938.7 727.1L938.9 713.5L939.0 713.9L939.2 711.3L939.4 717.1L939.6 707.0L939.7 702.2L939.9 707.9L940.1 711.5L940.2 719.9L940.4 708.5L940.6 704.3L940.7 706.7L940.9 703.6L941.1 703.0L941.3 706.5L941.4 706.9L941.6 701.9L941.8 709.5L941.9 703.5L942.1 703.8L942.3 700.4L942.4 703.9L942.6 703.7L942.8 705.4L943.0 699.2L943.1 706.4L943.3 701.5L943.5 705.1L943.6 708.7L943.8 712.8L944.0 704.3L944.1 701.8L944.3 708.2L944.5 713.8L944.7 707.2L944.8 720.5L945.0 701.1L945.2 717.4L945.3 716.4L945.5 716.7L945.7 708.3L945.8 719.0L946.0 718.6L946.2 719.4L946.4 713.0L946.5 713.4L946.7 721.0L946.9 717.1L947.0 714.3L947.2 712.5L947.4 718.1L947.5 711.0L947.7 720.5L947.9 719.0L948.1 711.5L948.2 721.3L948.4 725.2L948.6 721.2L948.7 714.4L948.9 718.2L949.1 725.2L949.2 715.6L949.4 720.1L949.6 727.3L949.8 720.9L949.9 719.8L950.1 726.4L950.3 730.4L950.4 725.0L950.6 717.2L950.8 716.1L950.9 722.6L951.1 715.6L951.3 723.8L951.5 728.7L951.6 712.4L951.8 724.1L952.0 726.6L952.1 722.8L952.3 727.3L952.5 727.5L952.6 729.7L952.8 737.0L953.0 725.6L953.2 719.6L953.3 718.7L953.5 717.4L953.7 726.0L953.8 724.0L954.0 724.2L954.2 722.6L954.3 728.8L954.5 726.1L954.7 725.4L954.9 717.2L955.0 718.5L955.2 713.6L955.4 716.3L955.5 719.5L955.7 713.5L955.9 716.3L956.0 728.8L956.2 718.6L956.4 712.6L956.6 713.9L956.7 719.4L956.9 723.9L957.1 719.7L957.2 724.2L957.4 721.7L957.6 715.2L957.7 725.3L957.9 718.5L958.1 729.5L958.3 718.1L958.4 720.3L958.6 718.6L958.8 720.0L958.9 723.3L959.1 720.1L959.3 726.4L959.4 722.8L959.6 728.0L959.8 720.9L960.0 726.4L960.1 725.9L960.3 719.6L960.5 731.9L960.6 727.0L960.8 722.4L961.0 718.9L961.1 719.3L961.3 718.8L961.5 720.8L961.7 714.1L961.8 719.5L962.0 716.3L962.2 726.9L962.3 722.9L962.5 727.2L962.7 730.6L962.8 721.9L963.0 729.2L963.2 721.7L963.4 723.0L963.5 715.8L963.7 720.7L963.9 727.1L964.0 722.9L964.2 718.9L964.4 720.8L964.5 717.5L964.7 717.9L964.9 714.5L965.1 726.4L965.2 726.4L965.4 720.6L965.6 714.7L965.7 719.5L965.9 729.7L966.1 714.0L966.2 717.6L966.4 717.6L966.6 723.2L966.8 713.4L966.9 720.3L967.1 715.0L967.3 717.0L967.4 712.8L967.6 720.6L967.8 715.6L967.9 715.0L968.1 722.5L968.3 718.9L968.5 728.0L968.6 718.8L968.8 717.0L969.0 716.9L969.1 728.9L969.3 721.7L969.5 714.4L969.6 716.9L969.8 712.8L970.0 718.1L970.2 712.4L970.3 712.0L970.5 716.4L970.7 720.4L970.8 717.8L971.0 717.1L971.2 713.6L971.3 702.0L971.5 712.2L971.7 711.7L971.9 715.5L972.0 721.5L972.2 717.2L972.4 706.0L972.5 714.5L972.7 713.6L972.9 718.4L973.0 715.1L973.2 706.9L973.4 711.9L973.6 714.9L973.7 707.3L973.9 716.5L974.1 716.1L974.2 722.7L974.4 717.6L974.6 715.5L974.7 718.2L974.9 719.2L975.1 724.0L975.3 715.3L975.4 709.6L975.6 733.2L975.8 724.3L975.9 721.3L976.1 732.7L976.3 716.5L976.4 718.4L976.6 720.4L976.8 725.0L977.0 721.0L977.1 727.1L977.3 722.1L977.5 730.1L977.6 726.6L977.8 717.0L978.0 724.9L978.1 720.1L978.3 725.0L978.5 725.9L978.7 736.6L978.8 725.3L979.0 719.1L979.2 727.3L979.3 721.6L979.5 735.8L979.7 730.8L979.8 735.0L980.0 726.1L980.2 723.3L980.4 729.7L980.5 722.2L980.7 724.3L980.9 725.5L981.0 728.6L981.2 722.4L981.4 720.1L981.5 736.5L981.7 727.4L981.9 729.2L982.1 733.0L982.2 732.3L982.4 727.3L982.6 728.4L982.7 738.2L982.9 736.6L983.1 734.4L983.2 738.8L983.4 722.3L983.6 731.8L983.8 730.0L983.9 722.5L984.1 733.2L984.3 734.7L984.4 733.0L984.6 723.4L984.8 730.8L984.9 732.7L985.1 730.5L985.3 732.8L985.5 733.7L985.6 738.0L985.8 732.3L986.0 743.4L986.1 732.0L986.3 732.2L986.5 734.4L986.6 730.3L986.8 729.1L987.0 736.3L987.2 720.3L987.3 722.0L987.5 739.9L987.7 733.5L987.8 732.5L988.0 730.9L988.2 730.1L988.3 723.7L988.5 726.1L988.7 721.9L988.9 731.4L989.0 728.3L989.2 725.8L989.4 725.8L989.5 722.7L989.7 717.2L989.9 729.9L990.0 724.3L990.2 719.7L990.4 722.6L990.6 725.1L990.7 724.0L990.9 720.9L991.1 721.0L991.2 715.3L991.4 722.1L991.6 719.5L991.7 718.8L991.9 707.6L992.1 716.0L992.3 715.4L992.4 715.4L992.6 698.7L992.8 701.4L992.9 710.8L993.1 704.4L993.3 710.0L993.4 707.0L993.6 710.8L993.8 703.4L994.0 700.4L994.1 707.1" fill="none" stroke="#000" stroke-width="1.45" stroke-linejoin="round"/>
<rect x="530.0" y="31.0" width="464.7" height="355.0" fill="none" stroke="#111" stroke-width="1.5"/>
<rect x="530.0" y="386.0" width="464.7" height="354.0" fill="none" stroke="#111" stroke-width="1.5"/>
<path d="M547.4 31.0V39.5M616.2 31.0V39.5M685.1 31.0V39.5M753.9 31.0V39.5M822.7 31.0V39.5M891.6 31.0V39.5M960.4 31.0V39.5M581.8 31.0V36.0M650.6 31.0V36.0M719.5 31.0V36.0M788.3 31.0V36.0M857.2 31.0V36.0M926.0 31.0V36.0M994.8 31.0V36.0M547.4 386.0V377.5M616.2 386.0V377.5M685.1 386.0V377.5M753.9 386.0V377.5M822.7 386.0V377.5M891.6 386.0V377.5M960.4 386.0V377.5M581.8 386.0V381.0M650.6 386.0V381.0M719.5 386.0V381.0M788.3 386.0V381.0M857.2 386.0V381.0M926.0 386.0V381.0M994.8 386.0V381.0M547.4 740.0V731.5M616.2 740.0V731.5M685.1 740.0V731.5M753.9 740.0V731.5M822.7 740.0V731.5M891.6 740.0V731.5M960.4 740.0V731.5M581.8 740.0V735.0M650.6 740.0V735.0M719.5 740.0V735.0M788.3 740.0V735.0M857.2 740.0V735.0M926.0 740.0V735.0M994.8 740.0V735.0M530.0 297.2H538.5M530.0 208.7H538.5M530.0 120.2H538.5M530.0 341.4H535.0M530.0 252.9H535.0M530.0 164.4H535.0M530.0 75.9H535.0M994.7 297.2H986.2M994.7 208.7H986.2M994.7 120.2H986.2M994.7 341.4H989.7M994.7 252.9H989.7M994.7 164.4H989.7M994.7 75.9H989.7M530.0 651.1H538.5M530.0 561.4H538.5M530.0 471.8H538.5M530.0 696.0H535.0M530.0 606.3H535.0M530.0 516.6H535.0M530.0 426.9H535.0M994.7 651.1H986.2M994.7 561.4H986.2M994.7 471.8H986.2M994.7 696.0H989.7M994.7 606.3H989.7M994.7 516.6H989.7M994.7 426.9H989.7" stroke="#111" stroke-width="1.5" fill="none"/>
<rect x="530" y="31" width="194.5" height="33.5" fill="#fff" stroke="#222" stroke-width="1.2"/>
<path d="M534 48.6H586" stroke="#333" stroke-width="1.4"/>
<text x="594" y="56.7" font-family='"Liberation Sans", Arial, sans-serif' font-size="24" fill="#1a1a1a">1mM MCPA</text>
<rect x="530" y="386" width="145.6" height="32.5" fill="#fff" stroke="#222" stroke-width="1.2"/>
<path d="M533.5 402.4H585.3" stroke="#333" stroke-width="1.4"/>
<text x="591.5" y="410.7" font-family='"Liberation Sans", Arial, sans-serif' font-size="24" fill="#1a1a1a">DI H2O</text>
<rect x="546.1" y="68" width="8.3" height="318.0" fill="rgba(86,148,210,0.5)"/>
<rect x="546.1" y="386" width="8.3" height="354" fill="rgba(86,148,210,0.5)"/>
<rect x="561.2" y="68" width="8.4" height="318.0" fill="rgba(86,148,210,0.5)"/>
<rect x="561.2" y="386" width="8.4" height="354" fill="rgba(86,148,210,0.5)"/>
<rect x="649.6" y="68" width="28.9" height="318.0" fill="rgba(86,148,210,0.5)"/>
<rect x="649.6" y="386" width="28.9" height="354" fill="rgba(86,148,210,0.5)"/>
<rect x="708.5" y="68" width="9.9" height="318.0" fill="rgba(86,148,210,0.5)"/>
<rect x="708.5" y="386" width="9.9" height="354" fill="rgba(86,148,210,0.5)"/>
<rect x="775.8" y="68" width="25.3" height="318.0" fill="rgba(86,148,210,0.5)"/>
<rect x="775.8" y="386" width="25.3" height="354" fill="rgba(86,148,210,0.5)"/>
<rect x="819.8" y="68" width="25.0" height="318.0" fill="rgba(86,148,210,0.5)"/>
<rect x="819.8" y="386" width="25.0" height="354" fill="rgba(86,148,210,0.5)"/>
<rect x="944.5" y="68" width="25.5" height="318.0" fill="rgba(86,148,210,0.5)"/>
<rect x="944.5" y="386" width="25.5" height="354" fill="rgba(86,148,210,0.5)"/>
<text x="547.4" y="16.4" text-anchor="middle" font-family='"Liberation Sans", Arial, sans-serif' font-size="19" fill="#1a1a1a" stroke="#1a1a1a" stroke-width="0.35">400</text>
<text x="547.4" y="765" text-anchor="middle" font-family='"Liberation Sans", Arial, sans-serif' font-size="19" fill="#1a1a1a" stroke="#1a1a1a" stroke-width="0.35">400</text>
<text x="616.2" y="16.4" text-anchor="middle" font-family='"Liberation Sans", Arial, sans-serif' font-size="19" fill="#1a1a1a" stroke="#1a1a1a" stroke-width="0.35">600</text>
<text x="616.2" y="765" text-anchor="middle" font-family='"Liberation Sans", Arial, sans-serif' font-size="19" fill="#1a1a1a" stroke="#1a1a1a" stroke-width="0.35">600</text>
<text x="685.1" y="16.4" text-anchor="middle" font-family='"Liberation Sans", Arial, sans-serif' font-size="19" fill="#1a1a1a" stroke="#1a1a1a" stroke-width="0.35">800</text>
<text x="685.1" y="765" text-anchor="middle" font-family='"Liberation Sans", Arial, sans-serif' font-size="19" fill="#1a1a1a" stroke="#1a1a1a" stroke-width="0.35">800</text>
<text x="753.9" y="16.4" text-anchor="middle" font-family='"Liberation Sans", Arial, sans-serif' font-size="19" fill="#1a1a1a" stroke="#1a1a1a" stroke-width="0.35">1000</text>
<text x="753.9" y="765" text-anchor="middle" font-family='"Liberation Sans", Arial, sans-serif' font-size="19" fill="#1a1a1a" stroke="#1a1a1a" stroke-width="0.35">1000</text>
<text x="822.7" y="16.4" text-anchor="middle" font-family='"Liberation Sans", Arial, sans-serif' font-size="19" fill="#1a1a1a" stroke="#1a1a1a" stroke-width="0.35">1200</text>
<text x="822.7" y="765" text-anchor="middle" font-family='"Liberation Sans", Arial, sans-serif' font-size="19" fill="#1a1a1a" stroke="#1a1a1a" stroke-width="0.35">1200</text>
<text x="891.6" y="16.4" text-anchor="middle" font-family='"Liberation Sans", Arial, sans-serif' font-size="19" fill="#1a1a1a" stroke="#1a1a1a" stroke-width="0.35">1400</text>
<text x="891.6" y="765" text-anchor="middle" font-family='"Liberation Sans", Arial, sans-serif' font-size="19" fill="#1a1a1a" stroke="#1a1a1a" stroke-width="0.35">1400</text>
<text x="960.4" y="16.4" text-anchor="middle" font-family='"Liberation Sans", Arial, sans-serif' font-size="19" fill="#1a1a1a" stroke="#1a1a1a" stroke-width="0.35">1600</text>
<text x="960.4" y="765" text-anchor="middle" font-family='"Liberation Sans", Arial, sans-serif' font-size="19" fill="#1a1a1a" stroke="#1a1a1a" stroke-width="0.35">1600</text>
<text x="520" y="391.0" text-anchor="end" font-family='"Liberation Sans", Arial, sans-serif' font-size="19" fill="#1a1a1a" stroke="#1a1a1a" stroke-width="0.35">0.0</text>
<text x="520" y="302.5" text-anchor="end" font-family='"Liberation Sans", Arial, sans-serif' font-size="19" fill="#1a1a1a" stroke="#1a1a1a" stroke-width="0.35">0.3</text>
<text x="520" y="214.0" text-anchor="end" font-family='"Liberation Sans", Arial, sans-serif' font-size="19" fill="#1a1a1a" stroke="#1a1a1a" stroke-width="0.35">0.6</text>
<text x="520" y="125.5" text-anchor="end" font-family='"Liberation Sans", Arial, sans-serif' font-size="19" fill="#1a1a1a" stroke="#1a1a1a" stroke-width="0.35">0.9</text>
<text x="520" y="37.0" text-anchor="end" font-family='"Liberation Sans", Arial, sans-serif' font-size="19" fill="#1a1a1a" stroke="#1a1a1a" stroke-width="0.35">1.2</text>
<text x="520" y="746.1" text-anchor="end" font-family='"Liberation Sans", Arial, sans-serif' font-size="19" fill="#1a1a1a" stroke="#1a1a1a" stroke-width="0.35">0.00</text>
<text x="520" y="656.4" text-anchor="end" font-family='"Liberation Sans", Arial, sans-serif' font-size="19" fill="#1a1a1a" stroke="#1a1a1a" stroke-width="0.35">0.25</text>
<text x="520" y="566.7" text-anchor="end" font-family='"Liberation Sans", Arial, sans-serif' font-size="19" fill="#1a1a1a" stroke="#1a1a1a" stroke-width="0.35">0.50</text>
<text x="520" y="477.1" text-anchor="end" font-family='"Liberation Sans", Arial, sans-serif' font-size="19" fill="#1a1a1a" stroke="#1a1a1a" stroke-width="0.35">0.75</text>
<text transform="translate(479.3 189.5) rotate(-90)" text-anchor="middle" font-family='"Liberation Sans", Arial, sans-serif' font-size="24" fill="#111">Normalized Intensity</text>
<text transform="translate(468.7 547.5) rotate(-90)" text-anchor="middle" font-family='"Liberation Sans", Arial, sans-serif' font-size="24" fill="#111">Normalized Intensity</text>
<text x="762.3" y="806" text-anchor="middle" font-family='"Liberation Sans", Arial, sans-serif' font-size="24" fill="#111">Wavenumber (cm<tspan font-size="15" dy="-9">-1</tspan><tspan dy="9">)</tspan></text>
<path d="M188.6 58.8L198.3 59.6M204.0 62.8L210.0 71.0M210.0 71.0L203.1 83.2M203.1 83.2L188.6 83.2M188.6 83.2L181.9 71.0M181.9 71.0L188.6 58.8M210.0 71.0L235.0 71.4M180.9 47.3L187.6 36.7M270.1 84.8L276.4 92.2M278.1 98.5L276.6 108.5M276.6 108.5L263.1 112.3M263.1 112.3L252.8 102.0M252.8 102.0L256.7 88.6M256.7 88.6L270.1 84.8M276.6 108.5L294.0 126.5M272.7 71.2L285.0 68.4M309.3 160.7L308.5 170.4M305.3 176.1L297.1 182.1M297.1 182.1L284.9 175.2M284.9 175.2L284.9 160.7M284.9 160.7L297.1 154.0M297.1 154.0L309.3 160.7M297.1 182.1L296.7 207.1M320.8 153.0L331.4 159.7M283.3 242.2L275.9 248.5M269.6 250.2L259.6 248.7M259.6 248.7L255.8 235.2M255.8 235.2L266.1 224.9M266.1 224.9L279.5 228.8M279.5 228.8L283.3 242.2M259.6 248.7L241.6 266.1M296.9 244.8L299.7 257.1M207.4 281.4L197.7 280.6M192.0 277.4L186.0 269.2M186.0 269.2L192.9 257.0M192.9 257.0L207.4 257.0M207.4 257.0L214.1 269.2M214.1 269.2L207.4 281.4M186.0 269.2L161.0 268.8M215.1 292.9L208.4 303.5M125.9 255.4L119.6 248.0M117.9 241.7L119.4 231.7M119.4 231.7L132.9 227.9M132.9 227.9L143.2 238.2M143.2 238.2L139.3 251.6M139.3 251.6L125.9 255.4M119.4 231.7L102.0 213.7M123.3 269.0L111.0 271.8M86.7 179.5L87.5 169.8M90.7 164.1L98.9 158.1M98.9 158.1L111.1 165.0M111.1 165.0L111.1 179.5M111.1 179.5L98.9 186.2M98.9 186.2L86.7 179.5M98.9 158.1L99.3 133.1M75.2 187.2L64.6 180.5M112.7 98.0L120.1 91.7M126.4 90.0L136.4 91.5M136.4 91.5L140.2 105.0M140.2 105.0L129.9 115.3M129.9 115.3L116.5 111.4M116.5 111.4L112.7 98.0M136.4 91.5L154.4 74.1M99.1 95.4L96.3 83.1" stroke="#5a5a5a" stroke-width="1.25" fill="none"/>
<path d="M181.9 71.0L160.5 71.5M203.1 83.2L210.1 93.4M256.7 88.6L241.2 73.9M263.1 112.3L260.8 124.4M297.1 154.0L296.6 132.6M284.9 175.2L274.7 182.2M279.5 228.8L294.2 213.3M255.8 235.2L243.7 232.9M214.1 269.2L235.5 268.7M192.9 257.0L185.9 246.8M139.3 251.6L154.8 266.3M132.9 227.9L135.2 215.8M98.9 186.2L99.4 207.6M111.1 165.0L121.3 158.0M116.5 111.4L101.8 126.9M140.2 105.0L152.3 107.3" stroke="#808080" stroke-width="2.6" fill="none"/>
<path d="M188.6 58.8L182.3 46.4L179.5 48.2ZM188.6 83.2L182.1 92.2L185.2 93.7ZM270.1 84.8L274.4 71.5L271.1 70.8ZM252.8 102.0L241.9 103.8L242.9 107.0ZM309.3 160.7L321.7 154.4L319.9 151.6ZM284.9 160.7L275.9 154.2L274.4 157.3ZM283.3 242.2L296.6 246.5L297.3 243.2ZM266.1 224.9L264.3 214.0L261.1 215.0ZM207.4 281.4L213.7 293.8L216.5 292.0ZM207.4 257.0L213.9 248.0L210.8 246.5ZM125.9 255.4L121.6 268.7L124.9 269.4ZM143.2 238.2L154.1 236.4L153.1 233.2ZM86.7 179.5L74.3 185.8L76.1 188.6ZM111.1 179.5L120.1 186.0L121.6 182.9ZM112.7 98.0L99.4 93.7L98.7 97.0ZM129.9 115.3L131.7 126.2L134.9 125.2Z" fill="#1a1a1a"/>
<g font-family='"Liberation Sans", Arial, sans-serif' font-size="7.9" font-weight="bold" fill="#4a4a4a">
<text x="201.9" y="61.7" text-anchor="middle">O</text>
<text x="186.7" y="35.0">OH</text>
<text x="184.9" y="98.4" text-anchor="end">HO</text>
<text x="209.2" y="98.4">OH</text>
<text x="238.6" y="73.3" text-anchor="middle">O</text>
<text x="278.7" y="96.8" text-anchor="middle">O</text>
<text x="285.9" y="69.3">OH</text>
<text x="241.6" y="108.5" text-anchor="end">HO</text>
<text x="263.2" y="130.1" text-anchor="end">HO</text>
<text x="296.5" y="130.9" text-anchor="middle">O</text>
<text x="308.2" y="175.8" text-anchor="middle">O</text>
<text x="331.8" y="163.7">OH</text>
<text x="274.6" y="155.7" text-anchor="end">HO</text>
<text x="274.6" y="186.2" text-anchor="end">HO</text>
<text x="296.7" y="212.6" text-anchor="middle">O</text>
<text x="273.2" y="252.6" text-anchor="middle">O</text>
<text x="297.5" y="262.9">OH</text>
<text x="264.5" y="212.5" text-anchor="end">HO</text>
<text x="242.9" y="234.0" text-anchor="end">HO</text>
<text x="239.1" y="270.5" text-anchor="middle">O</text>
<text x="194.1" y="282.1" text-anchor="middle">O</text>
<text x="209.3" y="308.8" text-anchor="end">HO</text>
<text x="211.1" y="245.4">OH</text>
<text x="186.8" y="245.4" text-anchor="end">HO</text>
<text x="157.4" y="270.6" text-anchor="middle">O</text>
<text x="117.3" y="247.1" text-anchor="middle">O</text>
<text x="110.1" y="274.5" text-anchor="end">HO</text>
<text x="154.4" y="235.4">OH</text>
<text x="132.8" y="213.8">OH</text>
<text x="99.5" y="213.0" text-anchor="middle">O</text>
<text x="87.8" y="168.0" text-anchor="middle">O</text>
<text x="64.2" y="180.1" text-anchor="end">HO</text>
<text x="121.4" y="188.1">OH</text>
<text x="121.4" y="157.6">OH</text>
<text x="99.3" y="131.3" text-anchor="middle">O</text>
<text x="122.8" y="91.3" text-anchor="middle">O</text>
<text x="98.5" y="80.9" text-anchor="end">HO</text>
<text x="131.5" y="131.4">OH</text>
<text x="153.1" y="109.9">OH</text>
<text x="156.9" y="73.4" text-anchor="middle">O</text>
</g>
<text x="198" y="172.8" text-anchor="middle" font-family='"Liberation Serif", "Times New Roman", serif' font-size="13.5" font-weight="bold" fill="#3a3a3a">γ-CD</text>
<path d="M102.2 366.5V486 M293.9 367.6V469 M322.8 484H426 M293.5 646.7H426" stroke="#111" stroke-width="2" stroke-dasharray="6 4" fill="none"/>
<path d="M110 382.6H286" stroke="#222" stroke-width="1.5"/>
<path d="M102.2 382.6L116.5 376.2L116.5 389Z M293.9 382.6L279.6 376.2L279.6 389Z" fill="#111"/>
<text x="200" y="369" text-anchor="middle" font-family='"Liberation Sans", Arial, sans-serif' font-size="13" fill="#444">0.95 nm</text>
<path d="M396.1 500V632" stroke="#222" stroke-width="1.5"/>
<path d="M396.1 486.8L389.2 505.6L403 505.6Z M396.1 646.7L389.2 628L403 628Z" fill="#111"/>
<text transform="translate(404.5 565.2) rotate(90)" text-anchor="middle" font-family='"Liberation Sans", Arial, sans-serif' font-size="12.5" letter-spacing="1" fill="#444">0.78nm</text>
<path d="M84.0 505.9L84.0 534.0L92.2 554.7M113.6 514.8L113.6 541.4L132.0 544.3M132.0 520.7L132.0 544.3L136.5 573.9L120.2 598.2L108.5 592.0M113.6 541.4L98.0 555.5M95.6 563.5L102.5 585.0M104.3 594.0L107.5 641.0M166.8 520.7L166.8 546.5L189.7 548.8M191.1 520.7L191.1 547.3L200.5 566.0M166.8 546.5L151.5 567.0M150.0 575.3L161.3 597.5M167.5 602.3L183.8 603.4L199.8 574.5M164.0 606.5L168.0 667.0M221.0 520.0L221.0 547.3L245.0 546.6M245.0 520.0L245.0 546.6L257.3 572.4L249.1 602.0L233.7 601.0M221.0 547.3L215.9 576.9L226.5 596.5M229.0 605.0L228.4 667.0M280.9 510.3L280.9 537.0L304.6 534.0M304.6 507.4L304.6 537.0L309.8 545.8M280.9 537.0L270.2 565.3M271.8 573.0L285.2 585.0M292.7 588.3L302.4 588.7M288.9 592.5L293.0 644.0" stroke="#111" stroke-width="2.1" stroke-dasharray="6.5 3.8" fill="none"/>
<ellipse cx="94.4" cy="559.1" rx="3.7" ry="4.5" fill="#fff" stroke="#111" stroke-width="2.2"/>
<ellipse cx="104.0" cy="589.4" rx="3.7" ry="4.5" fill="#fff" stroke="#111" stroke-width="2.2"/>
<ellipse cx="148.3" cy="570.9" rx="3.7" ry="4.5" fill="#fff" stroke="#111" stroke-width="2.2"/>
<ellipse cx="163.1" cy="601.9" rx="3.7" ry="4.5" fill="#fff" stroke="#111" stroke-width="2.2"/>
<ellipse cx="204.8" cy="570.2" rx="3.7" ry="4.5" fill="#fff" stroke="#111" stroke-width="2.2"/>
<ellipse cx="229.2" cy="600.5" rx="3.7" ry="4.5" fill="#fff" stroke="#111" stroke-width="2.2"/>
<ellipse cx="268.4" cy="569.5" rx="3.7" ry="4.5" fill="#fff" stroke="#111" stroke-width="2.2"/>
<ellipse cx="288.3" cy="588.0" rx="3.7" ry="4.5" fill="#fff" stroke="#111" stroke-width="2.2"/>
<path d="M108 640 A93.3 29 0 0 1 294.3 646" stroke="#cfcfcf" stroke-width="2" fill="none"/>
<path d="M71.5 487L108 640 M322.5 485L294.3 646" stroke="#000" stroke-width="3" fill="none"/>
<path d="M108 640 A93.3 25 0 0 0 294.3 646" stroke="#000" stroke-width="3" fill="none"/>
<ellipse cx="197" cy="486.3" rx="125.7" ry="23.8" fill="none" stroke="#000" stroke-width="3"/>
<ellipse cx="197.2" cy="487" rx="95.7" ry="13" fill="none" stroke="#000" stroke-width="2.6"/>
<path d="M107.7 641.9L103.5 664.4M168.0 667.2L165.2 691.0M228.4 667.2L231.7 691.0M294.3 646.0L297.1 674.2M141.4 622.3L144.2 634.9M186.3 615.3L186.3 627.9M236.8 616.7L237.3 629.3M273.2 622.3L273.2 632.1" stroke="#000" stroke-width="2.4" fill="none"/>
<text transform="translate(106.5 675.0) rotate(-90)" text-anchor="middle" font-family='"Liberation Sans", Arial, sans-serif' font-size="12.5" font-weight="bold" fill="#111">HS</text>
<text transform="translate(168.3 700.8) rotate(-90)" text-anchor="middle" font-family='"Liberation Sans", Arial, sans-serif' font-size="12.5" font-weight="bold" fill="#111">HS</text>
<text transform="translate(237.1 700.8) rotate(-90)" text-anchor="middle" font-family='"Liberation Sans", Arial, sans-serif' font-size="12.5" font-weight="bold" fill="#111">HS</text>
<text transform="translate(301.5 684.7) rotate(-90)" text-anchor="middle" font-family='"Liberation Sans", Arial, sans-serif' font-size="12.5" font-weight="bold" fill="#111">HS</text>
<text transform="translate(150.1 644.7) rotate(-90)" text-anchor="middle" font-family='"Liberation Sans", Arial, sans-serif' font-size="12.5" font-weight="bold" fill="#111">HS</text>
<text transform="translate(189.4 637.7) rotate(-90)" text-anchor="middle" font-family='"Liberation Sans", Arial, sans-serif' font-size="12.5" font-weight="bold" fill="#111">HS</text>
<text transform="translate(245.5 639.0) rotate(-90)" text-anchor="middle" font-family='"Liberation Sans", Arial, sans-serif' font-size="12.5" font-weight="bold" fill="#111">HS</text>
<text transform="translate(277.7 643.3) rotate(-90)" text-anchor="middle" font-family='"Liberation Sans", Arial, sans-serif' font-size="12.5" font-weight="bold" fill="#111">HS</text>
<text transform="translate(78.7 469.1) rotate(-90)" text-anchor="middle" font-family='"Liberation Sans", Arial, sans-serif' font-size="15" font-weight="bold" fill="#111">OH</text>
<text transform="translate(120.1 456.1) rotate(-90)" text-anchor="middle" font-family='"Liberation Sans", Arial, sans-serif' font-size="15" font-weight="bold" fill="#111">OH</text>
<text transform="translate(144.0 450.1) rotate(-90)" text-anchor="middle" font-family='"Liberation Sans", Arial, sans-serif' font-size="15" font-weight="bold" fill="#111">OH</text>
<text transform="translate(185.3 449.4) rotate(-90)" text-anchor="middle" font-family='"Liberation Sans", Arial, sans-serif' font-size="15" font-weight="bold" fill="#111">OH</text>
<text transform="translate(209.4 449.4) rotate(-90)" text-anchor="middle" font-family='"Liberation Sans", Arial, sans-serif' font-size="15" font-weight="bold" fill="#111">OH</text>
<text transform="translate(257.1 449.4) rotate(-90)" text-anchor="middle" font-family='"Liberation Sans", Arial, sans-serif' font-size="15" font-weight="bold" fill="#111">OH</text>
<text transform="translate(281.0 454.7) rotate(-90)" text-anchor="middle" font-family='"Liberation Sans", Arial, sans-serif' font-size="15" font-weight="bold" fill="#111">OH</text>
<text transform="translate(305.5 484.8) rotate(-90)" text-anchor="middle" font-family='"Liberation Sans", Arial, sans-serif' font-size="15" font-weight="bold" fill="#111">OH</text>
<text transform="translate(97.0 486.6) rotate(-90)" text-anchor="middle" font-family='"Liberation Sans", Arial, sans-serif' font-size="15" font-weight="bold" fill="#111">OH</text>
<text transform="translate(120.8 493.2) rotate(-90)" text-anchor="middle" font-family='"Liberation Sans", Arial, sans-serif' font-size="15" font-weight="bold" fill="#111">OH</text>
<text transform="translate(138.4 493.2) rotate(-90)" text-anchor="middle" font-family='"Liberation Sans", Arial, sans-serif' font-size="15" font-weight="bold" fill="#111">OH</text>
<text transform="translate(174.1 498.5) rotate(-90)" text-anchor="middle" font-family='"Liberation Sans", Arial, sans-serif' font-size="15" font-weight="bold" fill="#111">OH</text>
<text transform="translate(197.9 498.5) rotate(-90)" text-anchor="middle" font-family='"Liberation Sans", Arial, sans-serif' font-size="15" font-weight="bold" fill="#111">OH</text>
<text transform="translate(227.9 498.5) rotate(-90)" text-anchor="middle" font-family='"Liberation Sans", Arial, sans-serif' font-size="15" font-weight="bold" fill="#111">OH</text>
<text transform="translate(251.5 498.5) rotate(-90)" text-anchor="middle" font-family='"Liberation Sans", Arial, sans-serif' font-size="15" font-weight="bold" fill="#111">OH</text>
<text transform="translate(287.3 491.8) rotate(-90)" text-anchor="middle" font-family='"Liberation Sans", Arial, sans-serif' font-size="15" font-weight="bold" fill="#111">OH</text>
<path d="M53.7 384.5V439.2H138.3V482" stroke="#c8161d" stroke-width="2.2" fill="none"/>
<path d="M131 479.5L145 479.5L138.1 494.5Z" fill="#c8161d"/>
<path d="M345.8 426.9L320.3 468.2" stroke="#c8161d" stroke-width="2.2"/><path d="M313.5 479.3L315.4 462.9L327.3 470.2Z" fill="#c8161d"/>
<path d="M337.5 692.0L284.0 662.7" stroke="#c8161d" stroke-width="2.2"/><path d="M272.6 656.4L289.1 657.5L282.4 669.8Z" fill="#c8161d"/>
<text x="2" y="368" font-family='"Liberation Sans", Arial, sans-serif' font-size="13" fill="#333">Apolar Cavity</text>
<text x="354.6" y="415.5" text-anchor="middle" font-family='"Liberation Sans", Arial, sans-serif' font-size="13" fill="#333">Secondary Side</text>
<text x="357.7" y="708" text-anchor="middle" font-family='"Liberation Sans", Arial, sans-serif' font-size="13" fill="#333">Primary Side</text>
</svg>
</body></html>
